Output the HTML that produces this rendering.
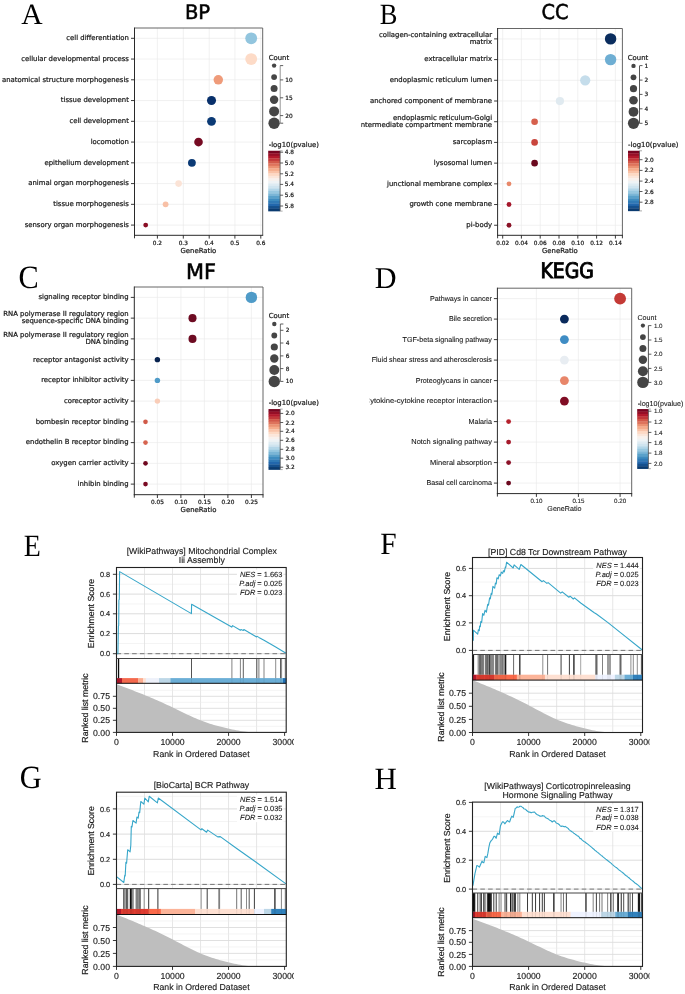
<!DOCTYPE html>
<html lang="en">
<head>
<meta charset="utf-8">
<title>GO / KEGG enrichment and GSEA figure</title>
<style>
html,body{margin:0;padding:0;background:#ffffff;}
body{width:685px;height:994px;overflow:hidden;}
svg{display:block;filter:blur(0.4px);}
text{text-rendering:geometricPrecision;}
</style>
</head>
<body>
<svg width="685" height="994" viewBox="0 0 685 994">
<defs>
<clipPath id="clipE"><rect x="0" y="520" width="294" height="240"/></clipPath>
<clipPath id="clipF"><rect x="343" y="520" width="306.6" height="240"/></clipPath>
<clipPath id="clipG"><rect x="0" y="760" width="294" height="234"/></clipPath>
<clipPath id="clipH"><rect x="343" y="760" width="306.6" height="234"/></clipPath>
<clipPath id="clipB"><rect x="361.2" y="0" width="324" height="260"/></clipPath>
<clipPath id="clipD"><rect x="369.6" y="260" width="315.4" height="260"/></clipPath>
</defs>
<rect x="0" y="0" width="685" height="994" fill="#ffffff"/>
<rect x="134.5" y="28" width="128.2" height="207.3" fill="#fff" stroke="none" stroke-width="1" />
<line x1="157.4" y1="28" x2="157.4" y2="235.3" stroke="#e9e9e9" stroke-width="0.65" />
<line x1="183.3" y1="28" x2="183.3" y2="235.3" stroke="#e9e9e9" stroke-width="0.65" />
<line x1="209.2" y1="28" x2="209.2" y2="235.3" stroke="#e9e9e9" stroke-width="0.65" />
<line x1="234.9" y1="28" x2="234.9" y2="235.3" stroke="#e9e9e9" stroke-width="0.65" />
<line x1="260.8" y1="28" x2="260.8" y2="235.3" stroke="#e9e9e9" stroke-width="0.65" />
<line x1="134.5" y1="38.3" x2="262.7" y2="38.3" stroke="#e9e9e9" stroke-width="0.65" />
<line x1="134.5" y1="59.05" x2="262.7" y2="59.05" stroke="#e9e9e9" stroke-width="0.65" />
<line x1="134.5" y1="79.81" x2="262.7" y2="79.81" stroke="#e9e9e9" stroke-width="0.65" />
<line x1="134.5" y1="100.56" x2="262.7" y2="100.56" stroke="#e9e9e9" stroke-width="0.65" />
<line x1="134.5" y1="121.32" x2="262.7" y2="121.32" stroke="#e9e9e9" stroke-width="0.65" />
<line x1="134.5" y1="142.07" x2="262.7" y2="142.07" stroke="#e9e9e9" stroke-width="0.65" />
<line x1="134.5" y1="162.83" x2="262.7" y2="162.83" stroke="#e9e9e9" stroke-width="0.65" />
<line x1="134.5" y1="183.58" x2="262.7" y2="183.58" stroke="#e9e9e9" stroke-width="0.65" />
<line x1="134.5" y1="204.34" x2="262.7" y2="204.34" stroke="#e9e9e9" stroke-width="0.65" />
<line x1="134.5" y1="225.09" x2="262.7" y2="225.09" stroke="#e9e9e9" stroke-width="0.65" />
<circle cx="251.2" cy="38.3" r="5.92" fill="#92c5de"/>
<circle cx="251.2" cy="59.05" r="5.92" fill="#fddbc7"/>
<circle cx="218.3" cy="79.81" r="4.72" fill="#ef9b7a"/>
<circle cx="211.5" cy="100.56" r="4.52" fill="#08306b"/>
<circle cx="211.5" cy="121.32" r="4.42" fill="#0b3a75"/>
<circle cx="198.5" cy="142.07" r="4.32" fill="#760a22"/>
<circle cx="191.9" cy="162.83" r="3.92" fill="#0b3a75"/>
<circle cx="178.6" cy="183.58" r="3.32" fill="#fbe3d6"/>
<circle cx="165.6" cy="204.34" r="2.92" fill="#f8c0a6"/>
<circle cx="145.7" cy="225.09" r="2.42" fill="#8a0e25"/>
<line x1="134.5" y1="28" x2="262.7" y2="28" stroke="#666" stroke-width="1" />
<line x1="262.7" y1="28" x2="262.7" y2="235.3" stroke="#666" stroke-width="1" />
<line x1="134.5" y1="27.5" x2="134.5" y2="235.8" stroke="#2a2a2a" stroke-width="1" />
<line x1="134" y1="235.3" x2="263.2" y2="235.3" stroke="#2a2a2a" stroke-width="1" />
<line x1="131" y1="38.3" x2="134.5" y2="38.3" stroke="#222" stroke-width="0.9" />
<text x="128.9" y="40.16" font-size="6.9" text-anchor="end" font-family="'DejaVu Sans', 'Liberation Sans', sans-serif" fill="#1a1a1a"  stroke="#1a1a1a" stroke-width="0.22">cell differentiation</text>
<line x1="131" y1="59.05" x2="134.5" y2="59.05" stroke="#222" stroke-width="0.9" />
<text x="128.9" y="60.92" font-size="6.9" text-anchor="end" font-family="'DejaVu Sans', 'Liberation Sans', sans-serif" fill="#1a1a1a"  stroke="#1a1a1a" stroke-width="0.22">cellular developmental process</text>
<line x1="131" y1="79.81" x2="134.5" y2="79.81" stroke="#222" stroke-width="0.9" />
<text x="128.9" y="81.67" font-size="6.9" text-anchor="end" font-family="'DejaVu Sans', 'Liberation Sans', sans-serif" fill="#1a1a1a"  stroke="#1a1a1a" stroke-width="0.22">anatomical structure morphogenesis</text>
<line x1="131" y1="100.56" x2="134.5" y2="100.56" stroke="#222" stroke-width="0.9" />
<text x="128.9" y="102.43" font-size="6.9" text-anchor="end" font-family="'DejaVu Sans', 'Liberation Sans', sans-serif" fill="#1a1a1a"  stroke="#1a1a1a" stroke-width="0.22">tissue development</text>
<line x1="131" y1="121.32" x2="134.5" y2="121.32" stroke="#222" stroke-width="0.9" />
<text x="128.9" y="123.18" font-size="6.9" text-anchor="end" font-family="'DejaVu Sans', 'Liberation Sans', sans-serif" fill="#1a1a1a"  stroke="#1a1a1a" stroke-width="0.22">cell development</text>
<line x1="131" y1="142.07" x2="134.5" y2="142.07" stroke="#222" stroke-width="0.9" />
<text x="128.9" y="143.94" font-size="6.9" text-anchor="end" font-family="'DejaVu Sans', 'Liberation Sans', sans-serif" fill="#1a1a1a"  stroke="#1a1a1a" stroke-width="0.22">locomotion</text>
<line x1="131" y1="162.83" x2="134.5" y2="162.83" stroke="#222" stroke-width="0.9" />
<text x="128.9" y="164.69" font-size="6.9" text-anchor="end" font-family="'DejaVu Sans', 'Liberation Sans', sans-serif" fill="#1a1a1a"  stroke="#1a1a1a" stroke-width="0.22">epithelium development</text>
<line x1="131" y1="183.58" x2="134.5" y2="183.58" stroke="#222" stroke-width="0.9" />
<text x="128.9" y="185.45" font-size="6.9" text-anchor="end" font-family="'DejaVu Sans', 'Liberation Sans', sans-serif" fill="#1a1a1a"  stroke="#1a1a1a" stroke-width="0.22">animal organ morphogenesis</text>
<line x1="131" y1="204.34" x2="134.5" y2="204.34" stroke="#222" stroke-width="0.9" />
<text x="128.9" y="206.2" font-size="6.9" text-anchor="end" font-family="'DejaVu Sans', 'Liberation Sans', sans-serif" fill="#1a1a1a"  stroke="#1a1a1a" stroke-width="0.22">tissue morphogenesis</text>
<line x1="131" y1="225.09" x2="134.5" y2="225.09" stroke="#222" stroke-width="0.9" />
<text x="128.9" y="226.96" font-size="6.9" text-anchor="end" font-family="'DejaVu Sans', 'Liberation Sans', sans-serif" fill="#1a1a1a"  stroke="#1a1a1a" stroke-width="0.22">sensory organ morphogenesis</text>
<line x1="157.4" y1="235.3" x2="157.4" y2="238.6" stroke="#222" stroke-width="0.9" />
<text x="157.4" y="245.09" font-size="5.8" text-anchor="middle" font-family="'DejaVu Sans', 'Liberation Sans', sans-serif" fill="#1a1a1a"  stroke="#1a1a1a" stroke-width="0.22">0.2</text>
<line x1="183.3" y1="235.3" x2="183.3" y2="238.6" stroke="#222" stroke-width="0.9" />
<text x="183.3" y="245.09" font-size="5.8" text-anchor="middle" font-family="'DejaVu Sans', 'Liberation Sans', sans-serif" fill="#1a1a1a"  stroke="#1a1a1a" stroke-width="0.22">0.3</text>
<line x1="209.2" y1="235.3" x2="209.2" y2="238.6" stroke="#222" stroke-width="0.9" />
<text x="209.2" y="245.09" font-size="5.8" text-anchor="middle" font-family="'DejaVu Sans', 'Liberation Sans', sans-serif" fill="#1a1a1a"  stroke="#1a1a1a" stroke-width="0.22">0.4</text>
<line x1="234.9" y1="235.3" x2="234.9" y2="238.6" stroke="#222" stroke-width="0.9" />
<text x="234.9" y="245.09" font-size="5.8" text-anchor="middle" font-family="'DejaVu Sans', 'Liberation Sans', sans-serif" fill="#1a1a1a"  stroke="#1a1a1a" stroke-width="0.22">0.5</text>
<line x1="260.8" y1="235.3" x2="260.8" y2="238.6" stroke="#222" stroke-width="0.9" />
<text x="260.8" y="245.09" font-size="5.8" text-anchor="middle" font-family="'DejaVu Sans', 'Liberation Sans', sans-serif" fill="#1a1a1a"  stroke="#1a1a1a" stroke-width="0.22">0.6</text>
<line x1="134.5" y1="235.3" x2="134.5" y2="238.3" stroke="#222" stroke-width="0.9" />
<text x="198.4" y="253.17" font-size="6.9" text-anchor="middle" font-family="'DejaVu Sans', 'Liberation Sans', sans-serif" fill="#1a1a1a"  stroke="#1a1a1a" stroke-width="0.22">GeneRatio</text>
<text x="197.5" y="19.3" font-size="20" text-anchor="middle" font-family="'DejaVu Sans Condensed', 'DejaVu Sans', 'Liberation Sans', sans-serif" fill="#000" textLength="25.2" lengthAdjust="spacingAndGlyphs" stroke="#000" stroke-width="0.5">BP</text>
<text transform="translate(21.2,23.8) scale(1,1)" font-size="29.6" font-family="'Liberation Serif', serif" fill="#000">A</text>
<text x="268.7" y="60.18" font-size="6.9" text-anchor="start" font-family="'DejaVu Sans', 'Liberation Sans', sans-serif" fill="#1a1a1a"  stroke="#1a1a1a" stroke-width="0.22">Count</text>
<circle cx="274.1" cy="65.6" r="2.2" fill="#454545"/>
<circle cx="274.1" cy="77.1" r="2.9" fill="#454545"/>
<circle cx="274.1" cy="88.4" r="3.5" fill="#454545"/>
<circle cx="274.1" cy="99.8" r="4.2" fill="#454545"/>
<circle cx="274.1" cy="111.4" r="5" fill="#454545"/>
<circle cx="274.1" cy="123.2" r="5.7" fill="#454545"/>
<line x1="280.2" y1="65.6" x2="280.2" y2="123.2" stroke="#8a8a8a" stroke-width="0.9" />
<line x1="280.2" y1="65.6" x2="283.2" y2="65.6" stroke="#333" stroke-width="0.8" />
<line x1="280.2" y1="79.9" x2="283.2" y2="79.9" stroke="#333" stroke-width="0.8" />
<text x="285.2" y="81.99" font-size="5.8" text-anchor="start" font-family="'DejaVu Sans', 'Liberation Sans', sans-serif" fill="#1a1a1a"  stroke="#1a1a1a" stroke-width="0.22">10</text>
<line x1="280.2" y1="97.8" x2="283.2" y2="97.8" stroke="#333" stroke-width="0.8" />
<text x="285.2" y="99.89" font-size="5.8" text-anchor="start" font-family="'DejaVu Sans', 'Liberation Sans', sans-serif" fill="#1a1a1a"  stroke="#1a1a1a" stroke-width="0.22">15</text>
<line x1="280.2" y1="115.6" x2="283.2" y2="115.6" stroke="#333" stroke-width="0.8" />
<text x="285.2" y="117.69" font-size="5.8" text-anchor="start" font-family="'DejaVu Sans', 'Liberation Sans', sans-serif" fill="#1a1a1a"  stroke="#1a1a1a" stroke-width="0.22">20</text>
<line x1="280.2" y1="123.2" x2="283.2" y2="123.2" stroke="#333" stroke-width="0.8" />
<text x="268.7" y="146.57" font-size="6.9" text-anchor="start" font-family="'DejaVu Sans', 'Liberation Sans', sans-serif" fill="#1a1a1a"  stroke="#1a1a1a" stroke-width="0.22">-log10(pvalue)</text>
<rect x="268.2" y="150.75" width="11.9" height="2.81" fill="#760521" stroke="none" stroke-width="1" />
<rect x="268.2" y="153.26" width="11.9" height="2.81" fill="#960f27" stroke="none" stroke-width="1" />
<rect x="268.2" y="155.78" width="11.9" height="2.81" fill="#b3192c" stroke="none" stroke-width="1" />
<rect x="268.2" y="158.29" width="11.9" height="2.81" fill="#c2383a" stroke="none" stroke-width="1" />
<rect x="268.2" y="160.8" width="11.9" height="2.81" fill="#d25849" stroke="none" stroke-width="1" />
<rect x="268.2" y="163.31" width="11.9" height="2.81" fill="#de735c" stroke="none" stroke-width="1" />
<rect x="268.2" y="165.82" width="11.9" height="2.81" fill="#eb9172" stroke="none" stroke-width="1" />
<rect x="268.2" y="168.34" width="11.9" height="2.81" fill="#f5ac8b" stroke="none" stroke-width="1" />
<rect x="268.2" y="170.85" width="11.9" height="2.81" fill="#f9c2a7" stroke="none" stroke-width="1" />
<rect x="268.2" y="173.36" width="11.9" height="2.81" fill="#fdd9c4" stroke="none" stroke-width="1" />
<rect x="268.2" y="175.88" width="11.9" height="2.81" fill="#fbe6da" stroke="none" stroke-width="1" />
<rect x="268.2" y="178.39" width="11.9" height="2.81" fill="#f8f1ed" stroke="none" stroke-width="1" />
<rect x="268.2" y="180.9" width="11.9" height="2.81" fill="#eff3f5" stroke="none" stroke-width="1" />
<rect x="268.2" y="183.41" width="11.9" height="2.81" fill="#deebf2" stroke="none" stroke-width="1" />
<rect x="268.2" y="185.92" width="11.9" height="2.81" fill="#cfe4ef" stroke="none" stroke-width="1" />
<rect x="268.2" y="188.44" width="11.9" height="2.81" fill="#b3d6e8" stroke="none" stroke-width="1" />
<rect x="268.2" y="190.95" width="11.9" height="2.81" fill="#98c8e0" stroke="none" stroke-width="1" />
<rect x="268.2" y="193.46" width="11.9" height="2.81" fill="#7bb6d6" stroke="none" stroke-width="1" />
<rect x="268.2" y="195.97" width="11.9" height="2.81" fill="#59a1ca" stroke="none" stroke-width="1" />
<rect x="268.2" y="198.49" width="11.9" height="2.81" fill="#3e8cbf" stroke="none" stroke-width="1" />
<rect x="268.2" y="201" width="11.9" height="2.81" fill="#307ab6" stroke="none" stroke-width="1" />
<rect x="268.2" y="203.51" width="11.9" height="2.81" fill="#2267ac" stroke="none" stroke-width="1" />
<rect x="268.2" y="206.02" width="11.9" height="2.81" fill="#15508d" stroke="none" stroke-width="1" />
<rect x="268.2" y="208.54" width="11.9" height="2.81" fill="#0a3b70" stroke="none" stroke-width="1" />
<line x1="280.1" y1="150.8" x2="280.1" y2="211.1" stroke="#555" stroke-width="0.8" />
<line x1="280.1" y1="150.8" x2="282.6" y2="150.8" stroke="#888" stroke-width="0.7" />
<line x1="280.1" y1="211.1" x2="282.6" y2="211.1" stroke="#888" stroke-width="0.7" />
<line x1="280.1" y1="152.2" x2="283.1" y2="152.2" stroke="#333" stroke-width="0.8" />
<text x="284.8" y="154.29" font-size="5.8" text-anchor="start" font-family="'DejaVu Sans', 'Liberation Sans', sans-serif" fill="#1a1a1a"  stroke="#1a1a1a" stroke-width="0.22">4.8</text>
<line x1="280.1" y1="163" x2="283.1" y2="163" stroke="#333" stroke-width="0.8" />
<text x="284.8" y="165.09" font-size="5.8" text-anchor="start" font-family="'DejaVu Sans', 'Liberation Sans', sans-serif" fill="#1a1a1a"  stroke="#1a1a1a" stroke-width="0.22">5.0</text>
<line x1="280.1" y1="173.8" x2="283.1" y2="173.8" stroke="#333" stroke-width="0.8" />
<text x="284.8" y="175.89" font-size="5.8" text-anchor="start" font-family="'DejaVu Sans', 'Liberation Sans', sans-serif" fill="#1a1a1a"  stroke="#1a1a1a" stroke-width="0.22">5.2</text>
<line x1="280.1" y1="184.4" x2="283.1" y2="184.4" stroke="#333" stroke-width="0.8" />
<text x="284.8" y="186.49" font-size="5.8" text-anchor="start" font-family="'DejaVu Sans', 'Liberation Sans', sans-serif" fill="#1a1a1a"  stroke="#1a1a1a" stroke-width="0.22">5.4</text>
<line x1="280.1" y1="195.2" x2="283.1" y2="195.2" stroke="#333" stroke-width="0.8" />
<text x="284.8" y="197.29" font-size="5.8" text-anchor="start" font-family="'DejaVu Sans', 'Liberation Sans', sans-serif" fill="#1a1a1a"  stroke="#1a1a1a" stroke-width="0.22">5.6</text>
<line x1="280.1" y1="206" x2="283.1" y2="206" stroke="#333" stroke-width="0.8" />
<text x="284.8" y="208.09" font-size="5.8" text-anchor="start" font-family="'DejaVu Sans', 'Liberation Sans', sans-serif" fill="#1a1a1a"  stroke="#1a1a1a" stroke-width="0.22">5.8</text>
<g clip-path="url(#clipB)">
<rect x="497.6" y="28.5" width="124.8" height="206.8" fill="#fff" stroke="none" stroke-width="1" />
<line x1="502.7" y1="28.5" x2="502.7" y2="235.3" stroke="#e9e9e9" stroke-width="0.65" />
<line x1="521.4" y1="28.5" x2="521.4" y2="235.3" stroke="#e9e9e9" stroke-width="0.65" />
<line x1="540.2" y1="28.5" x2="540.2" y2="235.3" stroke="#e9e9e9" stroke-width="0.65" />
<line x1="559" y1="28.5" x2="559" y2="235.3" stroke="#e9e9e9" stroke-width="0.65" />
<line x1="577.8" y1="28.5" x2="577.8" y2="235.3" stroke="#e9e9e9" stroke-width="0.65" />
<line x1="596.6" y1="28.5" x2="596.6" y2="235.3" stroke="#e9e9e9" stroke-width="0.65" />
<line x1="615.4" y1="28.5" x2="615.4" y2="235.3" stroke="#e9e9e9" stroke-width="0.65" />
<line x1="497.6" y1="38.9" x2="622.4" y2="38.9" stroke="#e9e9e9" stroke-width="0.65" />
<line x1="497.6" y1="59.6" x2="622.4" y2="59.6" stroke="#e9e9e9" stroke-width="0.65" />
<line x1="497.6" y1="80.31" x2="622.4" y2="80.31" stroke="#e9e9e9" stroke-width="0.65" />
<line x1="497.6" y1="101.01" x2="622.4" y2="101.01" stroke="#e9e9e9" stroke-width="0.65" />
<line x1="497.6" y1="121.72" x2="622.4" y2="121.72" stroke="#e9e9e9" stroke-width="0.65" />
<line x1="497.6" y1="142.42" x2="622.4" y2="142.42" stroke="#e9e9e9" stroke-width="0.65" />
<line x1="497.6" y1="163.13" x2="622.4" y2="163.13" stroke="#e9e9e9" stroke-width="0.65" />
<line x1="497.6" y1="183.84" x2="622.4" y2="183.84" stroke="#e9e9e9" stroke-width="0.65" />
<line x1="497.6" y1="204.54" x2="622.4" y2="204.54" stroke="#e9e9e9" stroke-width="0.65" />
<line x1="497.6" y1="225.24" x2="622.4" y2="225.24" stroke="#e9e9e9" stroke-width="0.65" />
<circle cx="610.6" cy="38.9" r="5.72" fill="#0a2d5e"/>
<circle cx="610.6" cy="59.6" r="5.72" fill="#6eaed3"/>
<circle cx="585.2" cy="80.31" r="5.12" fill="#c5ddeb"/>
<circle cx="559.9" cy="101.01" r="4.12" fill="#e0eaf0"/>
<circle cx="534.6" cy="121.72" r="3.32" fill="#d6604d"/>
<circle cx="534.6" cy="142.42" r="3.32" fill="#c9463d"/>
<circle cx="534.6" cy="163.13" r="3.32" fill="#6b0a1f"/>
<circle cx="509" cy="183.84" r="2.42" fill="#e8896a"/>
<circle cx="509" cy="204.54" r="2.42" fill="#a5182c"/>
<circle cx="509" cy="225.24" r="2.42" fill="#8a1226"/>
<line x1="497.6" y1="28.5" x2="622.4" y2="28.5" stroke="#666" stroke-width="1" />
<line x1="622.4" y1="28.5" x2="622.4" y2="235.3" stroke="#666" stroke-width="1" />
<line x1="497.6" y1="28" x2="497.6" y2="235.8" stroke="#2a2a2a" stroke-width="1" />
<line x1="497.1" y1="235.3" x2="622.9" y2="235.3" stroke="#2a2a2a" stroke-width="1" />
<line x1="494.1" y1="38.9" x2="497.6" y2="38.9" stroke="#222" stroke-width="0.9" />
<text x="492.1" y="37.16" font-size="6.9" text-anchor="end" font-family="'DejaVu Sans', 'Liberation Sans', sans-serif" fill="#1a1a1a"  stroke="#1a1a1a" stroke-width="0.22">collagen-containing extracellular</text>
<text x="492.1" y="43.86" font-size="6.9" text-anchor="end" font-family="'DejaVu Sans', 'Liberation Sans', sans-serif" fill="#1a1a1a"  stroke="#1a1a1a" stroke-width="0.22">matrix</text>
<line x1="494.1" y1="59.6" x2="497.6" y2="59.6" stroke="#222" stroke-width="0.9" />
<text x="492.1" y="61.47" font-size="6.9" text-anchor="end" font-family="'DejaVu Sans', 'Liberation Sans', sans-serif" fill="#1a1a1a"  stroke="#1a1a1a" stroke-width="0.22">extracellular matrix</text>
<line x1="494.1" y1="80.31" x2="497.6" y2="80.31" stroke="#222" stroke-width="0.9" />
<text x="492.1" y="82.17" font-size="6.9" text-anchor="end" font-family="'DejaVu Sans', 'Liberation Sans', sans-serif" fill="#1a1a1a"  stroke="#1a1a1a" stroke-width="0.22">endoplasmic reticulum lumen</text>
<line x1="494.1" y1="101.01" x2="497.6" y2="101.01" stroke="#222" stroke-width="0.9" />
<text x="492.1" y="102.88" font-size="6.9" text-anchor="end" font-family="'DejaVu Sans', 'Liberation Sans', sans-serif" fill="#1a1a1a"  stroke="#1a1a1a" stroke-width="0.22">anchored component of membrane</text>
<line x1="494.1" y1="121.72" x2="497.6" y2="121.72" stroke="#222" stroke-width="0.9" />
<text x="492.1" y="119.98" font-size="6.9" text-anchor="end" font-family="'DejaVu Sans', 'Liberation Sans', sans-serif" fill="#1a1a1a"  stroke="#1a1a1a" stroke-width="0.22">endoplasmic reticulum-Golgi</text>
<text x="492.1" y="126.68" font-size="6.9" text-anchor="end" font-family="'DejaVu Sans', 'Liberation Sans', sans-serif" fill="#1a1a1a"  stroke="#1a1a1a" stroke-width="0.22">intermediate compartment membrane</text>
<line x1="494.1" y1="142.42" x2="497.6" y2="142.42" stroke="#222" stroke-width="0.9" />
<text x="492.1" y="144.29" font-size="6.9" text-anchor="end" font-family="'DejaVu Sans', 'Liberation Sans', sans-serif" fill="#1a1a1a"  stroke="#1a1a1a" stroke-width="0.22">sarcoplasm</text>
<line x1="494.1" y1="163.13" x2="497.6" y2="163.13" stroke="#222" stroke-width="0.9" />
<text x="492.1" y="164.99" font-size="6.9" text-anchor="end" font-family="'DejaVu Sans', 'Liberation Sans', sans-serif" fill="#1a1a1a"  stroke="#1a1a1a" stroke-width="0.22">lysosomal lumen</text>
<line x1="494.1" y1="183.84" x2="497.6" y2="183.84" stroke="#222" stroke-width="0.9" />
<text x="492.1" y="185.7" font-size="6.9" text-anchor="end" font-family="'DejaVu Sans', 'Liberation Sans', sans-serif" fill="#1a1a1a"  stroke="#1a1a1a" stroke-width="0.22">junctional membrane complex</text>
<line x1="494.1" y1="204.54" x2="497.6" y2="204.54" stroke="#222" stroke-width="0.9" />
<text x="492.1" y="206.4" font-size="6.9" text-anchor="end" font-family="'DejaVu Sans', 'Liberation Sans', sans-serif" fill="#1a1a1a"  stroke="#1a1a1a" stroke-width="0.22">growth cone membrane</text>
<line x1="494.1" y1="225.24" x2="497.6" y2="225.24" stroke="#222" stroke-width="0.9" />
<text x="492.1" y="227.11" font-size="6.9" text-anchor="end" font-family="'DejaVu Sans', 'Liberation Sans', sans-serif" fill="#1a1a1a"  stroke="#1a1a1a" stroke-width="0.22">pi-body</text>
<line x1="502.7" y1="235.3" x2="502.7" y2="238.6" stroke="#222" stroke-width="0.9" />
<text x="502.7" y="244.69" font-size="5.8" text-anchor="middle" font-family="'DejaVu Sans', 'Liberation Sans', sans-serif" fill="#1a1a1a"  stroke="#1a1a1a" stroke-width="0.22">0.02</text>
<line x1="521.4" y1="235.3" x2="521.4" y2="238.6" stroke="#222" stroke-width="0.9" />
<text x="521.4" y="244.69" font-size="5.8" text-anchor="middle" font-family="'DejaVu Sans', 'Liberation Sans', sans-serif" fill="#1a1a1a"  stroke="#1a1a1a" stroke-width="0.22">0.04</text>
<line x1="540.2" y1="235.3" x2="540.2" y2="238.6" stroke="#222" stroke-width="0.9" />
<text x="540.2" y="244.69" font-size="5.8" text-anchor="middle" font-family="'DejaVu Sans', 'Liberation Sans', sans-serif" fill="#1a1a1a"  stroke="#1a1a1a" stroke-width="0.22">0.06</text>
<line x1="559" y1="235.3" x2="559" y2="238.6" stroke="#222" stroke-width="0.9" />
<text x="559" y="244.69" font-size="5.8" text-anchor="middle" font-family="'DejaVu Sans', 'Liberation Sans', sans-serif" fill="#1a1a1a"  stroke="#1a1a1a" stroke-width="0.22">0.08</text>
<line x1="577.8" y1="235.3" x2="577.8" y2="238.6" stroke="#222" stroke-width="0.9" />
<text x="577.8" y="244.69" font-size="5.8" text-anchor="middle" font-family="'DejaVu Sans', 'Liberation Sans', sans-serif" fill="#1a1a1a"  stroke="#1a1a1a" stroke-width="0.22">0.10</text>
<line x1="596.6" y1="235.3" x2="596.6" y2="238.6" stroke="#222" stroke-width="0.9" />
<text x="596.6" y="244.69" font-size="5.8" text-anchor="middle" font-family="'DejaVu Sans', 'Liberation Sans', sans-serif" fill="#1a1a1a"  stroke="#1a1a1a" stroke-width="0.22">0.12</text>
<line x1="615.4" y1="235.3" x2="615.4" y2="238.6" stroke="#222" stroke-width="0.9" />
<text x="615.4" y="244.69" font-size="5.8" text-anchor="middle" font-family="'DejaVu Sans', 'Liberation Sans', sans-serif" fill="#1a1a1a"  stroke="#1a1a1a" stroke-width="0.22">0.14</text>
<line x1="497.6" y1="235.3" x2="497.6" y2="238.3" stroke="#222" stroke-width="0.9" />
<line x1="622.4" y1="235.3" x2="622.4" y2="238.3" stroke="#222" stroke-width="0.9" />
<text x="559.9" y="252.67" font-size="6.9" text-anchor="middle" font-family="'DejaVu Sans', 'Liberation Sans', sans-serif" fill="#1a1a1a"  stroke="#1a1a1a" stroke-width="0.22">GeneRatio</text>
<text x="555" y="19.3" font-size="20.4" text-anchor="middle" font-family="'DejaVu Sans Condensed', 'DejaVu Sans', 'Liberation Sans', sans-serif" fill="#000" textLength="27" lengthAdjust="spacingAndGlyphs" stroke="#000" stroke-width="0.5">CC</text>
<text transform="translate(379.8,24.4) scale(0.9,1)" font-size="29.4" font-family="'Liberation Serif', serif" fill="#000">B</text>
<text x="627.8" y="60.28" font-size="6.9" text-anchor="start" font-family="'DejaVu Sans', 'Liberation Sans', sans-serif" fill="#1a1a1a"  stroke="#1a1a1a" stroke-width="0.22">Count</text>
<circle cx="633.5" cy="65.9" r="2.2" fill="#454545"/>
<circle cx="633.5" cy="77.3" r="2.9" fill="#454545"/>
<circle cx="633.5" cy="88.7" r="3.6" fill="#454545"/>
<circle cx="633.5" cy="100.3" r="4.3" fill="#454545"/>
<circle cx="633.5" cy="111.8" r="4.9" fill="#454545"/>
<circle cx="633.5" cy="123.3" r="5.6" fill="#454545"/>
<line x1="639.5" y1="65.9" x2="639.5" y2="123.3" stroke="#444" stroke-width="0.9" />
<line x1="639.5" y1="65.6" x2="642.5" y2="65.6" stroke="#333" stroke-width="0.8" />
<text x="644.4" y="67.69" font-size="5.8" text-anchor="start" font-family="'DejaVu Sans', 'Liberation Sans', sans-serif" fill="#1a1a1a"  stroke="#1a1a1a" stroke-width="0.22">1</text>
<line x1="639.5" y1="80.1" x2="642.5" y2="80.1" stroke="#333" stroke-width="0.8" />
<text x="644.4" y="82.19" font-size="5.8" text-anchor="start" font-family="'DejaVu Sans', 'Liberation Sans', sans-serif" fill="#1a1a1a"  stroke="#1a1a1a" stroke-width="0.22">2</text>
<line x1="639.5" y1="94.4" x2="642.5" y2="94.4" stroke="#333" stroke-width="0.8" />
<text x="644.4" y="96.49" font-size="5.8" text-anchor="start" font-family="'DejaVu Sans', 'Liberation Sans', sans-serif" fill="#1a1a1a"  stroke="#1a1a1a" stroke-width="0.22">3</text>
<line x1="639.5" y1="108.8" x2="642.5" y2="108.8" stroke="#333" stroke-width="0.8" />
<text x="644.4" y="110.89" font-size="5.8" text-anchor="start" font-family="'DejaVu Sans', 'Liberation Sans', sans-serif" fill="#1a1a1a"  stroke="#1a1a1a" stroke-width="0.22">4</text>
<line x1="639.5" y1="123.3" x2="642.5" y2="123.3" stroke="#333" stroke-width="0.8" />
<text x="644.4" y="125.39" font-size="5.8" text-anchor="start" font-family="'DejaVu Sans', 'Liberation Sans', sans-serif" fill="#1a1a1a"  stroke="#1a1a1a" stroke-width="0.22">5</text>
<text x="628.1" y="146.77" font-size="6.9" text-anchor="start" font-family="'DejaVu Sans', 'Liberation Sans', sans-serif" fill="#1a1a1a"  stroke="#1a1a1a" stroke-width="0.22">-log10(pvalue)</text>
<rect x="628" y="150.75" width="11.5" height="2.8" fill="#760521" stroke="none" stroke-width="1" />
<rect x="628" y="153.25" width="11.5" height="2.8" fill="#960f27" stroke="none" stroke-width="1" />
<rect x="628" y="155.76" width="11.5" height="2.8" fill="#b3192c" stroke="none" stroke-width="1" />
<rect x="628" y="158.26" width="11.5" height="2.8" fill="#c2383a" stroke="none" stroke-width="1" />
<rect x="628" y="160.77" width="11.5" height="2.8" fill="#d25849" stroke="none" stroke-width="1" />
<rect x="628" y="163.27" width="11.5" height="2.8" fill="#de735c" stroke="none" stroke-width="1" />
<rect x="628" y="165.78" width="11.5" height="2.8" fill="#eb9172" stroke="none" stroke-width="1" />
<rect x="628" y="168.28" width="11.5" height="2.8" fill="#f5ac8b" stroke="none" stroke-width="1" />
<rect x="628" y="170.78" width="11.5" height="2.8" fill="#f9c2a7" stroke="none" stroke-width="1" />
<rect x="628" y="173.29" width="11.5" height="2.8" fill="#fdd9c4" stroke="none" stroke-width="1" />
<rect x="628" y="175.79" width="11.5" height="2.8" fill="#fbe6da" stroke="none" stroke-width="1" />
<rect x="628" y="178.3" width="11.5" height="2.8" fill="#f8f1ed" stroke="none" stroke-width="1" />
<rect x="628" y="180.8" width="11.5" height="2.8" fill="#eff3f5" stroke="none" stroke-width="1" />
<rect x="628" y="183.3" width="11.5" height="2.8" fill="#deebf2" stroke="none" stroke-width="1" />
<rect x="628" y="185.81" width="11.5" height="2.8" fill="#cfe4ef" stroke="none" stroke-width="1" />
<rect x="628" y="188.31" width="11.5" height="2.8" fill="#b3d6e8" stroke="none" stroke-width="1" />
<rect x="628" y="190.82" width="11.5" height="2.8" fill="#98c8e0" stroke="none" stroke-width="1" />
<rect x="628" y="193.32" width="11.5" height="2.8" fill="#7bb6d6" stroke="none" stroke-width="1" />
<rect x="628" y="195.82" width="11.5" height="2.8" fill="#59a1ca" stroke="none" stroke-width="1" />
<rect x="628" y="198.33" width="11.5" height="2.8" fill="#3e8cbf" stroke="none" stroke-width="1" />
<rect x="628" y="200.83" width="11.5" height="2.8" fill="#307ab6" stroke="none" stroke-width="1" />
<rect x="628" y="203.34" width="11.5" height="2.8" fill="#2267ac" stroke="none" stroke-width="1" />
<rect x="628" y="205.84" width="11.5" height="2.8" fill="#15508d" stroke="none" stroke-width="1" />
<rect x="628" y="208.35" width="11.5" height="2.8" fill="#0a3b70" stroke="none" stroke-width="1" />
<line x1="639.5" y1="150.8" x2="639.5" y2="210.9" stroke="#555" stroke-width="0.8" />
<line x1="639.5" y1="150.8" x2="642" y2="150.8" stroke="#888" stroke-width="0.7" />
<line x1="639.5" y1="210.9" x2="642" y2="210.9" stroke="#888" stroke-width="0.7" />
<line x1="639.5" y1="159.7" x2="642.5" y2="159.7" stroke="#333" stroke-width="0.8" />
<text x="644.6" y="161.79" font-size="5.8" text-anchor="start" font-family="'DejaVu Sans', 'Liberation Sans', sans-serif" fill="#1a1a1a"  stroke="#1a1a1a" stroke-width="0.22">2.0</text>
<line x1="639.5" y1="170.4" x2="642.5" y2="170.4" stroke="#333" stroke-width="0.8" />
<text x="644.6" y="172.49" font-size="5.8" text-anchor="start" font-family="'DejaVu Sans', 'Liberation Sans', sans-serif" fill="#1a1a1a"  stroke="#1a1a1a" stroke-width="0.22">2.2</text>
<line x1="639.5" y1="181.1" x2="642.5" y2="181.1" stroke="#333" stroke-width="0.8" />
<text x="644.6" y="183.19" font-size="5.8" text-anchor="start" font-family="'DejaVu Sans', 'Liberation Sans', sans-serif" fill="#1a1a1a"  stroke="#1a1a1a" stroke-width="0.22">2.4</text>
<line x1="639.5" y1="191.5" x2="642.5" y2="191.5" stroke="#333" stroke-width="0.8" />
<text x="644.6" y="193.59" font-size="5.8" text-anchor="start" font-family="'DejaVu Sans', 'Liberation Sans', sans-serif" fill="#1a1a1a"  stroke="#1a1a1a" stroke-width="0.22">2.6</text>
<line x1="639.5" y1="202.2" x2="642.5" y2="202.2" stroke="#333" stroke-width="0.8" />
<text x="644.6" y="204.29" font-size="5.8" text-anchor="start" font-family="'DejaVu Sans', 'Liberation Sans', sans-serif" fill="#1a1a1a"  stroke="#1a1a1a" stroke-width="0.22">2.8</text>
</g>
<rect x="134.3" y="287" width="128.7" height="207.7" fill="#fff" stroke="none" stroke-width="1" />
<line x1="157.4" y1="287" x2="157.4" y2="494.7" stroke="#e9e9e9" stroke-width="0.65" />
<line x1="180.9" y1="287" x2="180.9" y2="494.7" stroke="#e9e9e9" stroke-width="0.65" />
<line x1="204.4" y1="287" x2="204.4" y2="494.7" stroke="#e9e9e9" stroke-width="0.65" />
<line x1="227.9" y1="287" x2="227.9" y2="494.7" stroke="#e9e9e9" stroke-width="0.65" />
<line x1="251.4" y1="287" x2="251.4" y2="494.7" stroke="#e9e9e9" stroke-width="0.65" />
<line x1="134.3" y1="297.4" x2="263" y2="297.4" stroke="#e9e9e9" stroke-width="0.65" />
<line x1="134.3" y1="318.14" x2="263" y2="318.14" stroke="#e9e9e9" stroke-width="0.65" />
<line x1="134.3" y1="338.89" x2="263" y2="338.89" stroke="#e9e9e9" stroke-width="0.65" />
<line x1="134.3" y1="359.63" x2="263" y2="359.63" stroke="#e9e9e9" stroke-width="0.65" />
<line x1="134.3" y1="380.38" x2="263" y2="380.38" stroke="#e9e9e9" stroke-width="0.65" />
<line x1="134.3" y1="401.12" x2="263" y2="401.12" stroke="#e9e9e9" stroke-width="0.65" />
<line x1="134.3" y1="421.87" x2="263" y2="421.87" stroke="#e9e9e9" stroke-width="0.65" />
<line x1="134.3" y1="442.62" x2="263" y2="442.62" stroke="#e9e9e9" stroke-width="0.65" />
<line x1="134.3" y1="463.36" x2="263" y2="463.36" stroke="#e9e9e9" stroke-width="0.65" />
<line x1="134.3" y1="484.11" x2="263" y2="484.11" stroke="#e9e9e9" stroke-width="0.65" />
<circle cx="251.4" cy="297.4" r="5.72" fill="#4f9bc8"/>
<circle cx="192.5" cy="318.14" r="4.02" fill="#6d0b22"/>
<circle cx="192.5" cy="338.89" r="4.02" fill="#6d0b22"/>
<circle cx="157.4" cy="359.63" r="2.72" fill="#08234f"/>
<circle cx="157.4" cy="380.38" r="2.72" fill="#4f9bc8"/>
<circle cx="157.4" cy="401.12" r="2.72" fill="#f9cdb8"/>
<circle cx="145.5" cy="421.87" r="2.32" fill="#d05a48"/>
<circle cx="145.5" cy="442.62" r="2.32" fill="#d66450"/>
<circle cx="145.5" cy="463.36" r="2.32" fill="#70081f"/>
<circle cx="145.5" cy="484.11" r="2.32" fill="#7a0a23"/>
<line x1="134.3" y1="287" x2="263" y2="287" stroke="#666" stroke-width="1" />
<line x1="263" y1="287" x2="263" y2="494.7" stroke="#666" stroke-width="1" />
<line x1="134.3" y1="286.5" x2="134.3" y2="495.2" stroke="#2a2a2a" stroke-width="1" />
<line x1="133.8" y1="494.7" x2="263.5" y2="494.7" stroke="#2a2a2a" stroke-width="1" />
<line x1="130.8" y1="297.4" x2="134.3" y2="297.4" stroke="#222" stroke-width="0.9" />
<text x="128.6" y="299.26" font-size="6.9" text-anchor="end" font-family="'DejaVu Sans', 'Liberation Sans', sans-serif" fill="#1a1a1a"  stroke="#1a1a1a" stroke-width="0.22">signaling receptor binding</text>
<line x1="130.8" y1="318.14" x2="134.3" y2="318.14" stroke="#222" stroke-width="0.9" />
<text x="128.6" y="316.41" font-size="6.9" text-anchor="end" font-family="'DejaVu Sans', 'Liberation Sans', sans-serif" fill="#1a1a1a"  stroke="#1a1a1a" stroke-width="0.22">RNA polymerase II regulatory region</text>
<text x="128.6" y="323.11" font-size="6.9" text-anchor="end" font-family="'DejaVu Sans', 'Liberation Sans', sans-serif" fill="#1a1a1a"  stroke="#1a1a1a" stroke-width="0.22">sequence-specific DNA binding</text>
<line x1="130.8" y1="338.89" x2="134.3" y2="338.89" stroke="#222" stroke-width="0.9" />
<text x="128.6" y="337.15" font-size="6.9" text-anchor="end" font-family="'DejaVu Sans', 'Liberation Sans', sans-serif" fill="#1a1a1a"  stroke="#1a1a1a" stroke-width="0.22">RNA polymerase II regulatory region</text>
<text x="128.6" y="343.85" font-size="6.9" text-anchor="end" font-family="'DejaVu Sans', 'Liberation Sans', sans-serif" fill="#1a1a1a"  stroke="#1a1a1a" stroke-width="0.22">DNA binding</text>
<line x1="130.8" y1="359.63" x2="134.3" y2="359.63" stroke="#222" stroke-width="0.9" />
<text x="128.6" y="361.5" font-size="6.9" text-anchor="end" font-family="'DejaVu Sans', 'Liberation Sans', sans-serif" fill="#1a1a1a"  stroke="#1a1a1a" stroke-width="0.22">receptor antagonist activity</text>
<line x1="130.8" y1="380.38" x2="134.3" y2="380.38" stroke="#222" stroke-width="0.9" />
<text x="128.6" y="382.24" font-size="6.9" text-anchor="end" font-family="'DejaVu Sans', 'Liberation Sans', sans-serif" fill="#1a1a1a"  stroke="#1a1a1a" stroke-width="0.22">receptor inhibitor activity</text>
<line x1="130.8" y1="401.12" x2="134.3" y2="401.12" stroke="#222" stroke-width="0.9" />
<text x="128.6" y="402.99" font-size="6.9" text-anchor="end" font-family="'DejaVu Sans', 'Liberation Sans', sans-serif" fill="#1a1a1a"  stroke="#1a1a1a" stroke-width="0.22">coreceptor activity</text>
<line x1="130.8" y1="421.87" x2="134.3" y2="421.87" stroke="#222" stroke-width="0.9" />
<text x="128.6" y="423.73" font-size="6.9" text-anchor="end" font-family="'DejaVu Sans', 'Liberation Sans', sans-serif" fill="#1a1a1a"  stroke="#1a1a1a" stroke-width="0.22">bombesin receptor binding</text>
<line x1="130.8" y1="442.62" x2="134.3" y2="442.62" stroke="#222" stroke-width="0.9" />
<text x="128.6" y="444.48" font-size="6.9" text-anchor="end" font-family="'DejaVu Sans', 'Liberation Sans', sans-serif" fill="#1a1a1a"  stroke="#1a1a1a" stroke-width="0.22">endothelin B receptor binding</text>
<line x1="130.8" y1="463.36" x2="134.3" y2="463.36" stroke="#222" stroke-width="0.9" />
<text x="128.6" y="465.22" font-size="6.9" text-anchor="end" font-family="'DejaVu Sans', 'Liberation Sans', sans-serif" fill="#1a1a1a"  stroke="#1a1a1a" stroke-width="0.22">oxygen carrier activity</text>
<line x1="130.8" y1="484.11" x2="134.3" y2="484.11" stroke="#222" stroke-width="0.9" />
<text x="128.6" y="485.97" font-size="6.9" text-anchor="end" font-family="'DejaVu Sans', 'Liberation Sans', sans-serif" fill="#1a1a1a"  stroke="#1a1a1a" stroke-width="0.22">inhibin binding</text>
<line x1="157.4" y1="494.7" x2="157.4" y2="498" stroke="#222" stroke-width="0.9" />
<text x="157.4" y="503.99" font-size="5.8" text-anchor="middle" font-family="'DejaVu Sans', 'Liberation Sans', sans-serif" fill="#1a1a1a"  stroke="#1a1a1a" stroke-width="0.22">0.05</text>
<line x1="180.9" y1="494.7" x2="180.9" y2="498" stroke="#222" stroke-width="0.9" />
<text x="180.9" y="503.99" font-size="5.8" text-anchor="middle" font-family="'DejaVu Sans', 'Liberation Sans', sans-serif" fill="#1a1a1a"  stroke="#1a1a1a" stroke-width="0.22">0.10</text>
<line x1="204.4" y1="494.7" x2="204.4" y2="498" stroke="#222" stroke-width="0.9" />
<text x="204.4" y="503.99" font-size="5.8" text-anchor="middle" font-family="'DejaVu Sans', 'Liberation Sans', sans-serif" fill="#1a1a1a"  stroke="#1a1a1a" stroke-width="0.22">0.15</text>
<line x1="227.9" y1="494.7" x2="227.9" y2="498" stroke="#222" stroke-width="0.9" />
<text x="227.9" y="503.99" font-size="5.8" text-anchor="middle" font-family="'DejaVu Sans', 'Liberation Sans', sans-serif" fill="#1a1a1a"  stroke="#1a1a1a" stroke-width="0.22">0.20</text>
<line x1="251.4" y1="494.7" x2="251.4" y2="498" stroke="#222" stroke-width="0.9" />
<text x="251.4" y="503.99" font-size="5.8" text-anchor="middle" font-family="'DejaVu Sans', 'Liberation Sans', sans-serif" fill="#1a1a1a"  stroke="#1a1a1a" stroke-width="0.22">0.25</text>
<line x1="134.3" y1="494.7" x2="134.3" y2="497.7" stroke="#222" stroke-width="0.9" />
<line x1="263" y1="494.7" x2="263" y2="497.7" stroke="#222" stroke-width="0.9" />
<text x="198.5" y="511.97" font-size="6.9" text-anchor="middle" font-family="'DejaVu Sans', 'Liberation Sans', sans-serif" fill="#1a1a1a"  stroke="#1a1a1a" stroke-width="0.22">GeneRatio</text>
<text x="201" y="278.7" font-size="21.2" text-anchor="middle" font-family="'DejaVu Sans Condensed', 'DejaVu Sans', 'Liberation Sans', sans-serif" fill="#000" textLength="30" lengthAdjust="spacingAndGlyphs" stroke="#000" stroke-width="0.5">MF</text>
<text transform="translate(18.5,288.2) scale(0.93,1)" font-size="32.5" font-family="'Liberation Serif', serif" fill="#000">C</text>
<text x="268.7" y="318.48" font-size="6.9" text-anchor="start" font-family="'DejaVu Sans', 'Liberation Sans', sans-serif" fill="#1a1a1a"  stroke="#1a1a1a" stroke-width="0.22">Count</text>
<circle cx="274.3" cy="324" r="2.2" fill="#454545"/>
<circle cx="274.3" cy="335.5" r="2.9" fill="#454545"/>
<circle cx="274.3" cy="347" r="3.6" fill="#454545"/>
<circle cx="274.3" cy="358.5" r="4.2" fill="#454545"/>
<circle cx="274.3" cy="370" r="5" fill="#454545"/>
<circle cx="274.3" cy="381.5" r="5.7" fill="#454545"/>
<line x1="280.4" y1="324" x2="280.4" y2="381.5" stroke="#666" stroke-width="0.9" />
<line x1="280.4" y1="324" x2="283.4" y2="324" stroke="#333" stroke-width="0.8" />
<line x1="280.4" y1="330.3" x2="283.4" y2="330.3" stroke="#333" stroke-width="0.8" />
<text x="285.7" y="332.39" font-size="5.8" text-anchor="start" font-family="'DejaVu Sans', 'Liberation Sans', sans-serif" fill="#1a1a1a"  stroke="#1a1a1a" stroke-width="0.22">2</text>
<line x1="280.4" y1="343" x2="283.4" y2="343" stroke="#333" stroke-width="0.8" />
<text x="285.7" y="345.09" font-size="5.8" text-anchor="start" font-family="'DejaVu Sans', 'Liberation Sans', sans-serif" fill="#1a1a1a"  stroke="#1a1a1a" stroke-width="0.22">4</text>
<line x1="280.4" y1="355.9" x2="283.4" y2="355.9" stroke="#333" stroke-width="0.8" />
<text x="285.7" y="357.99" font-size="5.8" text-anchor="start" font-family="'DejaVu Sans', 'Liberation Sans', sans-serif" fill="#1a1a1a"  stroke="#1a1a1a" stroke-width="0.22">6</text>
<line x1="280.4" y1="368.6" x2="283.4" y2="368.6" stroke="#333" stroke-width="0.8" />
<text x="285.7" y="370.69" font-size="5.8" text-anchor="start" font-family="'DejaVu Sans', 'Liberation Sans', sans-serif" fill="#1a1a1a"  stroke="#1a1a1a" stroke-width="0.22">8</text>
<line x1="280.4" y1="381.4" x2="283.4" y2="381.4" stroke="#333" stroke-width="0.8" />
<text x="285.7" y="383.49" font-size="5.8" text-anchor="start" font-family="'DejaVu Sans', 'Liberation Sans', sans-serif" fill="#1a1a1a"  stroke="#1a1a1a" stroke-width="0.22">10</text>
<text x="268.7" y="405.37" font-size="6.9" text-anchor="start" font-family="'DejaVu Sans', 'Liberation Sans', sans-serif" fill="#1a1a1a"  stroke="#1a1a1a" stroke-width="0.22">-log10(pvalue)</text>
<rect x="268.5" y="409.05" width="11.7" height="2.82" fill="#760521" stroke="none" stroke-width="1" />
<rect x="268.5" y="411.57" width="11.7" height="2.82" fill="#960f27" stroke="none" stroke-width="1" />
<rect x="268.5" y="414.09" width="11.7" height="2.82" fill="#b3192c" stroke="none" stroke-width="1" />
<rect x="268.5" y="416.61" width="11.7" height="2.82" fill="#c2383a" stroke="none" stroke-width="1" />
<rect x="268.5" y="419.13" width="11.7" height="2.82" fill="#d25849" stroke="none" stroke-width="1" />
<rect x="268.5" y="421.65" width="11.7" height="2.82" fill="#de735c" stroke="none" stroke-width="1" />
<rect x="268.5" y="424.18" width="11.7" height="2.82" fill="#eb9172" stroke="none" stroke-width="1" />
<rect x="268.5" y="426.7" width="11.7" height="2.82" fill="#f5ac8b" stroke="none" stroke-width="1" />
<rect x="268.5" y="429.22" width="11.7" height="2.82" fill="#f9c2a7" stroke="none" stroke-width="1" />
<rect x="268.5" y="431.74" width="11.7" height="2.82" fill="#fdd9c4" stroke="none" stroke-width="1" />
<rect x="268.5" y="434.26" width="11.7" height="2.82" fill="#fbe6da" stroke="none" stroke-width="1" />
<rect x="268.5" y="436.78" width="11.7" height="2.82" fill="#f8f1ed" stroke="none" stroke-width="1" />
<rect x="268.5" y="439.3" width="11.7" height="2.82" fill="#eff3f5" stroke="none" stroke-width="1" />
<rect x="268.5" y="441.82" width="11.7" height="2.82" fill="#deebf2" stroke="none" stroke-width="1" />
<rect x="268.5" y="444.34" width="11.7" height="2.82" fill="#cfe4ef" stroke="none" stroke-width="1" />
<rect x="268.5" y="446.86" width="11.7" height="2.82" fill="#b3d6e8" stroke="none" stroke-width="1" />
<rect x="268.5" y="449.38" width="11.7" height="2.82" fill="#98c8e0" stroke="none" stroke-width="1" />
<rect x="268.5" y="451.9" width="11.7" height="2.82" fill="#7bb6d6" stroke="none" stroke-width="1" />
<rect x="268.5" y="454.43" width="11.7" height="2.82" fill="#59a1ca" stroke="none" stroke-width="1" />
<rect x="268.5" y="456.95" width="11.7" height="2.82" fill="#3e8cbf" stroke="none" stroke-width="1" />
<rect x="268.5" y="459.47" width="11.7" height="2.82" fill="#307ab6" stroke="none" stroke-width="1" />
<rect x="268.5" y="461.99" width="11.7" height="2.82" fill="#2267ac" stroke="none" stroke-width="1" />
<rect x="268.5" y="464.51" width="11.7" height="2.82" fill="#15508d" stroke="none" stroke-width="1" />
<rect x="268.5" y="467.03" width="11.7" height="2.82" fill="#0a3b70" stroke="none" stroke-width="1" />
<line x1="280.2" y1="409.1" x2="280.2" y2="469.6" stroke="#555" stroke-width="0.8" />
<line x1="280.2" y1="409.1" x2="282.7" y2="409.1" stroke="#888" stroke-width="0.7" />
<line x1="280.2" y1="469.6" x2="282.7" y2="469.6" stroke="#888" stroke-width="0.7" />
<line x1="280.2" y1="413.4" x2="283.2" y2="413.4" stroke="#333" stroke-width="0.8" />
<text x="285.4" y="415.49" font-size="5.8" text-anchor="start" font-family="'DejaVu Sans', 'Liberation Sans', sans-serif" fill="#1a1a1a"  stroke="#1a1a1a" stroke-width="0.22">2.0</text>
<line x1="280.2" y1="422.5" x2="283.2" y2="422.5" stroke="#333" stroke-width="0.8" />
<text x="285.4" y="424.59" font-size="5.8" text-anchor="start" font-family="'DejaVu Sans', 'Liberation Sans', sans-serif" fill="#1a1a1a"  stroke="#1a1a1a" stroke-width="0.22">2.2</text>
<line x1="280.2" y1="431.3" x2="283.2" y2="431.3" stroke="#333" stroke-width="0.8" />
<text x="285.4" y="433.39" font-size="5.8" text-anchor="start" font-family="'DejaVu Sans', 'Liberation Sans', sans-serif" fill="#1a1a1a"  stroke="#1a1a1a" stroke-width="0.22">2.4</text>
<line x1="280.2" y1="440.3" x2="283.2" y2="440.3" stroke="#333" stroke-width="0.8" />
<text x="285.4" y="442.39" font-size="5.8" text-anchor="start" font-family="'DejaVu Sans', 'Liberation Sans', sans-serif" fill="#1a1a1a"  stroke="#1a1a1a" stroke-width="0.22">2.6</text>
<line x1="280.2" y1="449.3" x2="283.2" y2="449.3" stroke="#333" stroke-width="0.8" />
<text x="285.4" y="451.39" font-size="5.8" text-anchor="start" font-family="'DejaVu Sans', 'Liberation Sans', sans-serif" fill="#1a1a1a"  stroke="#1a1a1a" stroke-width="0.22">2.8</text>
<line x1="280.2" y1="458.2" x2="283.2" y2="458.2" stroke="#333" stroke-width="0.8" />
<text x="285.4" y="460.29" font-size="5.8" text-anchor="start" font-family="'DejaVu Sans', 'Liberation Sans', sans-serif" fill="#1a1a1a"  stroke="#1a1a1a" stroke-width="0.22">3.0</text>
<line x1="280.2" y1="467.2" x2="283.2" y2="467.2" stroke="#333" stroke-width="0.8" />
<text x="285.4" y="469.29" font-size="5.8" text-anchor="start" font-family="'DejaVu Sans', 'Liberation Sans', sans-serif" fill="#1a1a1a"  stroke="#1a1a1a" stroke-width="0.22">3.2</text>
<g clip-path="url(#clipD)">
<rect x="497.4" y="288.2" width="134.3" height="205.4" fill="#fff" stroke="none" stroke-width="1" />
<line x1="536.4" y1="288.2" x2="536.4" y2="493.6" stroke="#e9e9e9" stroke-width="0.65" />
<line x1="578.4" y1="288.2" x2="578.4" y2="493.6" stroke="#e9e9e9" stroke-width="0.65" />
<line x1="620.1" y1="288.2" x2="620.1" y2="493.6" stroke="#e9e9e9" stroke-width="0.65" />
<line x1="497.4" y1="298.6" x2="631.7" y2="298.6" stroke="#e9e9e9" stroke-width="0.65" />
<line x1="497.4" y1="319.1" x2="631.7" y2="319.1" stroke="#e9e9e9" stroke-width="0.65" />
<line x1="497.4" y1="339.6" x2="631.7" y2="339.6" stroke="#e9e9e9" stroke-width="0.65" />
<line x1="497.4" y1="360.1" x2="631.7" y2="360.1" stroke="#e9e9e9" stroke-width="0.65" />
<line x1="497.4" y1="380.6" x2="631.7" y2="380.6" stroke="#e9e9e9" stroke-width="0.65" />
<line x1="497.4" y1="401.1" x2="631.7" y2="401.1" stroke="#e9e9e9" stroke-width="0.65" />
<line x1="497.4" y1="421.6" x2="631.7" y2="421.6" stroke="#e9e9e9" stroke-width="0.65" />
<line x1="497.4" y1="442.1" x2="631.7" y2="442.1" stroke="#e9e9e9" stroke-width="0.65" />
<line x1="497.4" y1="462.6" x2="631.7" y2="462.6" stroke="#e9e9e9" stroke-width="0.65" />
<line x1="497.4" y1="483.1" x2="631.7" y2="483.1" stroke="#e9e9e9" stroke-width="0.65" />
<circle cx="620.1" cy="298.6" r="5.92" fill="#c43a36"/>
<circle cx="564.4" cy="319.1" r="4.42" fill="#0a2a5c"/>
<circle cx="564.4" cy="339.6" r="4.42" fill="#3f8cc4"/>
<circle cx="564.4" cy="360.1" r="4.42" fill="#e8edf2"/>
<circle cx="564.4" cy="380.6" r="4.42" fill="#e8866a"/>
<circle cx="564.4" cy="401.1" r="4.42" fill="#800d24"/>
<circle cx="508.6" cy="421.6" r="2.42" fill="#b5212c"/>
<circle cx="508.6" cy="442.1" r="2.42" fill="#a61a2b"/>
<circle cx="508.6" cy="462.6" r="2.42" fill="#8c1127"/>
<circle cx="508.6" cy="483.1" r="2.42" fill="#6b081e"/>
<line x1="497.4" y1="288.2" x2="631.7" y2="288.2" stroke="#666" stroke-width="1" />
<line x1="631.7" y1="288.2" x2="631.7" y2="493.6" stroke="#666" stroke-width="1" />
<line x1="497.4" y1="287.7" x2="497.4" y2="494.1" stroke="#2a2a2a" stroke-width="1" />
<line x1="496.9" y1="493.6" x2="632.2" y2="493.6" stroke="#2a2a2a" stroke-width="1" />
<line x1="493.9" y1="298.6" x2="497.4" y2="298.6" stroke="#222" stroke-width="0.9" />
<text x="491.9" y="300.53" font-size="7.15" text-anchor="end" font-family="'Liberation Sans', sans-serif" fill="#1a1a1a"  stroke="#1a1a1a" stroke-width="0.1">Pathways in cancer</text>
<line x1="493.9" y1="319.1" x2="497.4" y2="319.1" stroke="#222" stroke-width="0.9" />
<text x="491.9" y="321.03" font-size="7.15" text-anchor="end" font-family="'Liberation Sans', sans-serif" fill="#1a1a1a"  stroke="#1a1a1a" stroke-width="0.1">Bile secretion</text>
<line x1="493.9" y1="339.6" x2="497.4" y2="339.6" stroke="#222" stroke-width="0.9" />
<text x="491.9" y="341.53" font-size="7.15" text-anchor="end" font-family="'Liberation Sans', sans-serif" fill="#1a1a1a"  stroke="#1a1a1a" stroke-width="0.1">TGF-beta signaling pathway</text>
<line x1="493.9" y1="360.1" x2="497.4" y2="360.1" stroke="#222" stroke-width="0.9" />
<text x="491.9" y="362.03" font-size="7.15" text-anchor="end" font-family="'Liberation Sans', sans-serif" fill="#1a1a1a"  stroke="#1a1a1a" stroke-width="0.1">Fluid shear stress and atherosclerosis</text>
<line x1="493.9" y1="380.6" x2="497.4" y2="380.6" stroke="#222" stroke-width="0.9" />
<text x="491.9" y="382.53" font-size="7.15" text-anchor="end" font-family="'Liberation Sans', sans-serif" fill="#1a1a1a"  stroke="#1a1a1a" stroke-width="0.1">Proteoglycans in cancer</text>
<line x1="493.9" y1="401.1" x2="497.4" y2="401.1" stroke="#222" stroke-width="0.9" />
<text x="491.9" y="403.03" font-size="7.15" text-anchor="end" font-family="'Liberation Sans', sans-serif" fill="#1a1a1a" textLength="127.2" lengthAdjust="spacingAndGlyphs"  stroke="#1a1a1a" stroke-width="0.1">Cytokine-cytokine receptor interaction</text>
<line x1="493.9" y1="421.6" x2="497.4" y2="421.6" stroke="#222" stroke-width="0.9" />
<text x="491.9" y="423.53" font-size="7.15" text-anchor="end" font-family="'Liberation Sans', sans-serif" fill="#1a1a1a"  stroke="#1a1a1a" stroke-width="0.1">Malaria</text>
<line x1="493.9" y1="442.1" x2="497.4" y2="442.1" stroke="#222" stroke-width="0.9" />
<text x="491.9" y="444.03" font-size="7.15" text-anchor="end" font-family="'Liberation Sans', sans-serif" fill="#1a1a1a" textLength="80.6" lengthAdjust="spacingAndGlyphs"  stroke="#1a1a1a" stroke-width="0.1">Notch signaling pathway</text>
<line x1="493.9" y1="462.6" x2="497.4" y2="462.6" stroke="#222" stroke-width="0.9" />
<text x="491.9" y="464.53" font-size="7.15" text-anchor="end" font-family="'Liberation Sans', sans-serif" fill="#1a1a1a" textLength="61.8" lengthAdjust="spacingAndGlyphs"  stroke="#1a1a1a" stroke-width="0.1">Mineral absorption</text>
<line x1="493.9" y1="483.1" x2="497.4" y2="483.1" stroke="#222" stroke-width="0.9" />
<text x="491.9" y="485.03" font-size="7.15" text-anchor="end" font-family="'Liberation Sans', sans-serif" fill="#1a1a1a"  stroke="#1a1a1a" stroke-width="0.1">Basal cell carcinoma</text>
<line x1="536.4" y1="493.6" x2="536.4" y2="496.9" stroke="#222" stroke-width="0.9" />
<text x="536.4" y="502.83" font-size="6.2" text-anchor="middle" font-family="'Liberation Sans', sans-serif" fill="#1a1a1a"  stroke="#1a1a1a" stroke-width="0.1">0.10</text>
<line x1="578.4" y1="493.6" x2="578.4" y2="496.9" stroke="#222" stroke-width="0.9" />
<text x="578.4" y="502.83" font-size="6.2" text-anchor="middle" font-family="'Liberation Sans', sans-serif" fill="#1a1a1a"  stroke="#1a1a1a" stroke-width="0.1">0.15</text>
<line x1="620.1" y1="493.6" x2="620.1" y2="496.9" stroke="#222" stroke-width="0.9" />
<text x="620.1" y="502.83" font-size="6.2" text-anchor="middle" font-family="'Liberation Sans', sans-serif" fill="#1a1a1a"  stroke="#1a1a1a" stroke-width="0.1">0.20</text>
<line x1="497.4" y1="493.6" x2="497.4" y2="496.6" stroke="#222" stroke-width="0.9" />
<line x1="631.7" y1="493.6" x2="631.7" y2="496.6" stroke="#222" stroke-width="0.9" />
<text x="564.4" y="511.44" font-size="7.15" text-anchor="middle" font-family="'Liberation Sans', sans-serif" fill="#1a1a1a"  stroke="#1a1a1a" stroke-width="0.1">GeneRatio</text>
<text x="567.2" y="278.4" font-size="21.4" text-anchor="middle" font-family="'DejaVu Sans Condensed', 'DejaVu Sans', 'Liberation Sans', sans-serif" fill="#000" textLength="53.5" lengthAdjust="spacingAndGlyphs" stroke="#000" stroke-width="0.9">KEGG</text>
<text transform="translate(374.7,288.1) scale(1,1)" font-size="30.2" font-family="'Liberation Serif', serif" fill="#000">D</text>
<text x="637.4" y="320.37" font-size="7.15" text-anchor="start" font-family="'Liberation Sans', sans-serif" fill="#1a1a1a"  stroke="#1a1a1a" stroke-width="0.1">Count</text>
<circle cx="642.9" cy="325.6" r="2.1" fill="#454545"/>
<circle cx="642.9" cy="337.1" r="2.9" fill="#454545"/>
<circle cx="642.9" cy="348.4" r="3.5" fill="#454545"/>
<circle cx="642.9" cy="359.8" r="4.2" fill="#454545"/>
<circle cx="642.9" cy="371.2" r="5" fill="#454545"/>
<circle cx="642.9" cy="382.4" r="5.7" fill="#454545"/>
<line x1="648.4" y1="325.6" x2="648.4" y2="382.4" stroke="#444" stroke-width="0.9" />
<line x1="648.4" y1="325.6" x2="651.4" y2="325.6" stroke="#333" stroke-width="0.8" />
<text x="653.9" y="327.83" font-size="6.2" text-anchor="start" font-family="'Liberation Sans', sans-serif" fill="#1a1a1a"  stroke="#1a1a1a" stroke-width="0.1">1.0</text>
<line x1="648.4" y1="340" x2="651.4" y2="340" stroke="#333" stroke-width="0.8" />
<text x="653.9" y="342.23" font-size="6.2" text-anchor="start" font-family="'Liberation Sans', sans-serif" fill="#1a1a1a"  stroke="#1a1a1a" stroke-width="0.1">1.5</text>
<line x1="648.4" y1="354.2" x2="651.4" y2="354.2" stroke="#333" stroke-width="0.8" />
<text x="653.9" y="356.43" font-size="6.2" text-anchor="start" font-family="'Liberation Sans', sans-serif" fill="#1a1a1a"  stroke="#1a1a1a" stroke-width="0.1">2.0</text>
<line x1="648.4" y1="368.4" x2="651.4" y2="368.4" stroke="#333" stroke-width="0.8" />
<text x="653.9" y="370.63" font-size="6.2" text-anchor="start" font-family="'Liberation Sans', sans-serif" fill="#1a1a1a"  stroke="#1a1a1a" stroke-width="0.1">2.5</text>
<line x1="648.4" y1="382.4" x2="651.4" y2="382.4" stroke="#333" stroke-width="0.8" />
<text x="653.9" y="384.63" font-size="6.2" text-anchor="start" font-family="'Liberation Sans', sans-serif" fill="#1a1a1a"  stroke="#1a1a1a" stroke-width="0.1">3.0</text>
<text x="637.7" y="406.04" font-size="7.15" text-anchor="start" font-family="'Liberation Sans', sans-serif" fill="#1a1a1a"  stroke="#1a1a1a" stroke-width="0.1">-log10(pvalue)</text>
<rect x="637.2" y="409.05" width="11.2" height="2.78" fill="#760521" stroke="none" stroke-width="1" />
<rect x="637.2" y="411.53" width="11.2" height="2.78" fill="#960f27" stroke="none" stroke-width="1" />
<rect x="637.2" y="414.02" width="11.2" height="2.78" fill="#b3192c" stroke="none" stroke-width="1" />
<rect x="637.2" y="416.5" width="11.2" height="2.78" fill="#c2383a" stroke="none" stroke-width="1" />
<rect x="637.2" y="418.98" width="11.2" height="2.78" fill="#d25849" stroke="none" stroke-width="1" />
<rect x="637.2" y="421.47" width="11.2" height="2.78" fill="#de735c" stroke="none" stroke-width="1" />
<rect x="637.2" y="423.95" width="11.2" height="2.78" fill="#eb9172" stroke="none" stroke-width="1" />
<rect x="637.2" y="426.43" width="11.2" height="2.78" fill="#f5ac8b" stroke="none" stroke-width="1" />
<rect x="637.2" y="428.92" width="11.2" height="2.78" fill="#f9c2a7" stroke="none" stroke-width="1" />
<rect x="637.2" y="431.4" width="11.2" height="2.78" fill="#fdd9c4" stroke="none" stroke-width="1" />
<rect x="637.2" y="433.88" width="11.2" height="2.78" fill="#fbe6da" stroke="none" stroke-width="1" />
<rect x="637.2" y="436.37" width="11.2" height="2.78" fill="#f8f1ed" stroke="none" stroke-width="1" />
<rect x="637.2" y="438.85" width="11.2" height="2.78" fill="#eff3f5" stroke="none" stroke-width="1" />
<rect x="637.2" y="441.33" width="11.2" height="2.78" fill="#deebf2" stroke="none" stroke-width="1" />
<rect x="637.2" y="443.82" width="11.2" height="2.78" fill="#cfe4ef" stroke="none" stroke-width="1" />
<rect x="637.2" y="446.3" width="11.2" height="2.78" fill="#b3d6e8" stroke="none" stroke-width="1" />
<rect x="637.2" y="448.78" width="11.2" height="2.78" fill="#98c8e0" stroke="none" stroke-width="1" />
<rect x="637.2" y="451.27" width="11.2" height="2.78" fill="#7bb6d6" stroke="none" stroke-width="1" />
<rect x="637.2" y="453.75" width="11.2" height="2.78" fill="#59a1ca" stroke="none" stroke-width="1" />
<rect x="637.2" y="456.23" width="11.2" height="2.78" fill="#3e8cbf" stroke="none" stroke-width="1" />
<rect x="637.2" y="458.72" width="11.2" height="2.78" fill="#307ab6" stroke="none" stroke-width="1" />
<rect x="637.2" y="461.2" width="11.2" height="2.78" fill="#2267ac" stroke="none" stroke-width="1" />
<rect x="637.2" y="463.68" width="11.2" height="2.78" fill="#15508d" stroke="none" stroke-width="1" />
<rect x="637.2" y="466.17" width="11.2" height="2.78" fill="#0a3b70" stroke="none" stroke-width="1" />
<line x1="648.4" y1="409.1" x2="648.4" y2="468.7" stroke="#555" stroke-width="0.8" />
<line x1="648.4" y1="409.1" x2="650.9" y2="409.1" stroke="#888" stroke-width="0.7" />
<line x1="648.4" y1="468.7" x2="650.9" y2="468.7" stroke="#888" stroke-width="0.7" />
<line x1="648.4" y1="411.2" x2="651.4" y2="411.2" stroke="#333" stroke-width="0.8" />
<text x="653.9" y="413.43" font-size="6.2" text-anchor="start" font-family="'Liberation Sans', sans-serif" fill="#1a1a1a"  stroke="#1a1a1a" stroke-width="0.1">1.0</text>
<line x1="648.4" y1="422" x2="651.4" y2="422" stroke="#333" stroke-width="0.8" />
<text x="653.9" y="424.23" font-size="6.2" text-anchor="start" font-family="'Liberation Sans', sans-serif" fill="#1a1a1a"  stroke="#1a1a1a" stroke-width="0.1">1.2</text>
<line x1="648.4" y1="432.4" x2="651.4" y2="432.4" stroke="#333" stroke-width="0.8" />
<text x="653.9" y="434.63" font-size="6.2" text-anchor="start" font-family="'Liberation Sans', sans-serif" fill="#1a1a1a"  stroke="#1a1a1a" stroke-width="0.1">1.4</text>
<line x1="648.4" y1="442.6" x2="651.4" y2="442.6" stroke="#333" stroke-width="0.8" />
<text x="653.9" y="444.83" font-size="6.2" text-anchor="start" font-family="'Liberation Sans', sans-serif" fill="#1a1a1a"  stroke="#1a1a1a" stroke-width="0.1">1.6</text>
<line x1="648.4" y1="453.1" x2="651.4" y2="453.1" stroke="#333" stroke-width="0.8" />
<text x="653.9" y="455.33" font-size="6.2" text-anchor="start" font-family="'Liberation Sans', sans-serif" fill="#1a1a1a"  stroke="#1a1a1a" stroke-width="0.1">1.8</text>
<line x1="648.4" y1="463.4" x2="651.4" y2="463.4" stroke="#333" stroke-width="0.8" />
<text x="653.9" y="465.63" font-size="6.2" text-anchor="start" font-family="'Liberation Sans', sans-serif" fill="#1a1a1a"  stroke="#1a1a1a" stroke-width="0.1">2.0</text>
</g>
<rect x="116.5" y="567.5" width="169.7" height="164.9" fill="#fff" stroke="none" stroke-width="1" />
<line x1="116.5" y1="584.2" x2="286.2" y2="584.2" stroke="#ececec" stroke-width="0.6" />
<line x1="116.5" y1="604" x2="286.2" y2="604" stroke="#ececec" stroke-width="0.6" />
<line x1="116.5" y1="623.7" x2="286.2" y2="623.7" stroke="#ececec" stroke-width="0.6" />
<line x1="116.5" y1="643.5" x2="286.2" y2="643.5" stroke="#ececec" stroke-width="0.6" />
<line x1="116.5" y1="574.3" x2="286.2" y2="574.3" stroke="#dcdcdc" stroke-width="1" />
<line x1="116.5" y1="594.1" x2="286.2" y2="594.1" stroke="#dcdcdc" stroke-width="1" />
<line x1="116.5" y1="613.8" x2="286.2" y2="613.8" stroke="#dcdcdc" stroke-width="1" />
<line x1="116.5" y1="633.6" x2="286.2" y2="633.6" stroke="#dcdcdc" stroke-width="1" />
<line x1="116.5" y1="653.7" x2="286.2" y2="653.7" stroke="#dcdcdc" stroke-width="1" />
<line x1="144.51" y1="567.5" x2="144.51" y2="658.5" stroke="#e0e0e0" stroke-width="0.8" />
<line x1="144.51" y1="683.3" x2="144.51" y2="732.4" stroke="#e0e0e0" stroke-width="0.8" />
<line x1="200.55" y1="567.5" x2="200.55" y2="658.5" stroke="#e0e0e0" stroke-width="0.8" />
<line x1="200.55" y1="683.3" x2="200.55" y2="732.4" stroke="#e0e0e0" stroke-width="0.8" />
<line x1="256.58" y1="567.5" x2="256.58" y2="658.5" stroke="#e0e0e0" stroke-width="0.8" />
<line x1="256.58" y1="683.3" x2="256.58" y2="732.4" stroke="#e0e0e0" stroke-width="0.8" />
<line x1="172.53" y1="567.5" x2="172.53" y2="658.5" stroke="#e0e0e0" stroke-width="0.8" />
<line x1="172.53" y1="683.3" x2="172.53" y2="732.4" stroke="#e0e0e0" stroke-width="0.8" />
<line x1="228.56" y1="567.5" x2="228.56" y2="658.5" stroke="#e0e0e0" stroke-width="0.8" />
<line x1="228.56" y1="683.3" x2="228.56" y2="732.4" stroke="#e0e0e0" stroke-width="0.8" />
<line x1="116.5" y1="696.3" x2="286.2" y2="696.3" stroke="#dcdcdc" stroke-width="0.9" />
<line x1="116.5" y1="702.3" x2="286.2" y2="702.3" stroke="#ececec" stroke-width="0.6" />
<line x1="116.5" y1="708.3" x2="286.2" y2="708.3" stroke="#dcdcdc" stroke-width="0.9" />
<line x1="116.5" y1="714.3" x2="286.2" y2="714.3" stroke="#ececec" stroke-width="0.6" />
<line x1="116.5" y1="720.3" x2="286.2" y2="720.3" stroke="#dcdcdc" stroke-width="0.9" />
<line x1="116.5" y1="726.3" x2="286.2" y2="726.3" stroke="#ececec" stroke-width="0.6" />
<line x1="116.5" y1="690.3" x2="286.2" y2="690.3" stroke="#ececec" stroke-width="0.6" />
<line x1="116.5" y1="653.7" x2="286.2" y2="653.7" stroke="#6a6a6a" stroke-width="0.9" stroke-dasharray="4.6 3.2"/>
<polygon points="116.5,732.4 116.5,684.27 118.53,685.02 120.56,685.78 122.59,686.53 124.62,687.29 126.65,688.06 128.68,688.82 130.71,689.59 132.74,690.37 134.77,691.15 136.8,691.94 138.83,692.73 140.86,693.53 142.89,694.34 144.92,695.17 146.95,696 148.98,696.84 151.01,697.69 153.04,698.55 155.07,699.42 157.1,700.3 159.13,701.2 161.16,702.1 163.19,703.02 165.22,703.94 167.25,704.88 169.28,705.83 171.31,706.79 173.34,707.76 175.37,708.74 177.4,709.73 179.43,710.72 181.46,711.71 183.49,712.7 185.52,713.68 187.55,714.65 189.58,715.61 191.61,716.54 193.64,717.46 195.67,718.35 197.7,719.21 199.73,720.04 201.76,720.84 203.79,721.6 205.82,722.33 207.85,723.02 209.88,723.68 211.91,724.32 213.94,724.92 215.97,725.51 218,726.06 220.03,726.6 222.06,727.11 224.09,727.61 226.12,728.09 228.15,728.55 230.18,729 232.21,729.44 234.24,729.85 236.27,730.25 238.3,730.62 240.33,730.96 242.36,731.28 244.39,731.56 246.42,731.8 248.45,732.01 250.48,732.18 252.51,732.3 254.54,732.37 256.58,732.4" fill="#bebebe"/>
<rect x="116.5" y="678.1" width="5.7" height="5.2" fill="#b2182b" stroke="none" stroke-width="1" />
<rect x="122" y="678.1" width="16.3" height="5.2" fill="#f4694d" stroke="none" stroke-width="1" />
<rect x="138.1" y="678.1" width="5.1" height="5.2" fill="#fcae91" stroke="none" stroke-width="1" />
<rect x="143" y="678.1" width="3" height="5.2" fill="#fee0d2" stroke="none" stroke-width="1" />
<rect x="145.8" y="678.1" width="13.4" height="5.2" fill="#eef1fa" stroke="none" stroke-width="1" />
<rect x="159" y="678.1" width="11.6" height="5.2" fill="#bdd7e7" stroke="none" stroke-width="1" />
<rect x="170.4" y="678.1" width="112.8" height="5.2" fill="#6baed6" stroke="none" stroke-width="1" />
<rect x="283" y="678.1" width="3.4" height="5.2" fill="#2171b5" stroke="none" stroke-width="1" />
<line x1="118.55" y1="658.5" x2="118.55" y2="678.1" stroke="#000" stroke-width="1.3" stroke-opacity="0.95"/>
<line x1="118.55" y1="678.1" x2="118.55" y2="683.3" stroke="#000" stroke-width="1.3" stroke-opacity="0.11"/>
<line x1="191.5" y1="658.5" x2="191.5" y2="678.1" stroke="#000" stroke-width="0.8" stroke-opacity="0.85"/>
<line x1="191.5" y1="678.1" x2="191.5" y2="683.3" stroke="#000" stroke-width="0.8" stroke-opacity="0.1"/>
<line x1="231.9" y1="658.5" x2="231.9" y2="678.1" stroke="#000" stroke-width="0.9" stroke-opacity="0.55"/>
<line x1="231.9" y1="678.1" x2="231.9" y2="683.3" stroke="#000" stroke-width="0.9" stroke-opacity="0.07"/>
<line x1="240.4" y1="658.5" x2="240.4" y2="678.1" stroke="#000" stroke-width="0.9" stroke-opacity="0.55"/>
<line x1="240.4" y1="678.1" x2="240.4" y2="683.3" stroke="#000" stroke-width="0.9" stroke-opacity="0.07"/>
<line x1="243.3" y1="658.5" x2="243.3" y2="678.1" stroke="#000" stroke-width="0.8" stroke-opacity="0.8"/>
<line x1="243.3" y1="678.1" x2="243.3" y2="683.3" stroke="#000" stroke-width="0.8" stroke-opacity="0.1"/>
<line x1="256.8" y1="658.5" x2="256.8" y2="678.1" stroke="#000" stroke-width="0.9" stroke-opacity="0.85"/>
<line x1="256.8" y1="678.1" x2="256.8" y2="683.3" stroke="#000" stroke-width="0.9" stroke-opacity="0.1"/>
<line x1="258.9" y1="658.5" x2="258.9" y2="678.1" stroke="#000" stroke-width="0.9" stroke-opacity="0.6"/>
<line x1="258.9" y1="678.1" x2="258.9" y2="683.3" stroke="#000" stroke-width="0.9" stroke-opacity="0.07"/>
<line x1="264" y1="658.5" x2="264" y2="678.1" stroke="#000" stroke-width="0.9" stroke-opacity="0.55"/>
<line x1="264" y1="678.1" x2="264" y2="683.3" stroke="#000" stroke-width="0.9" stroke-opacity="0.07"/>
<line x1="275.7" y1="658.5" x2="275.7" y2="678.1" stroke="#000" stroke-width="0.9" stroke-opacity="0.5"/>
<line x1="275.7" y1="678.1" x2="275.7" y2="683.3" stroke="#000" stroke-width="0.9" stroke-opacity="0.06"/>
<line x1="280.5" y1="658.5" x2="280.5" y2="678.1" stroke="#000" stroke-width="0.9" stroke-opacity="0.7"/>
<line x1="280.5" y1="678.1" x2="280.5" y2="683.3" stroke="#000" stroke-width="0.9" stroke-opacity="0.08"/>
<line x1="281.6" y1="658.5" x2="281.6" y2="678.1" stroke="#000" stroke-width="0.8" stroke-opacity="0.6"/>
<line x1="281.6" y1="678.1" x2="281.6" y2="683.3" stroke="#000" stroke-width="0.8" stroke-opacity="0.07"/>
<line x1="285.3" y1="658.5" x2="285.3" y2="678.1" stroke="#000" stroke-width="0.9" stroke-opacity="0.6"/>
<line x1="285.3" y1="678.1" x2="285.3" y2="683.3" stroke="#000" stroke-width="0.9" stroke-opacity="0.07"/>
<polyline points="117.3,653.7 117.9,653.7 118.4,626 118.7,625.6 118.9,600 119.3,599.4 119.6,571.6 191.4,613.6 191.6,604.3 231.7,627.1 232.6,625.6 240.4,630.3 241,629.5 243.3,630.4 243.9,629.6 256.6,636.9 257.2,636.4 258.9,637.4 264,640.2 275.7,647 286,653.2" fill="none" stroke="#36a6c9" stroke-width="1.1" stroke-linejoin="round"/>
<rect x="116.5" y="567.5" width="169.7" height="164.9" fill="none" stroke="#222" stroke-width="1.1" />
<line x1="116.5" y1="658.5" x2="286.2" y2="658.5" stroke="#444" stroke-width="1" />
<line x1="116.5" y1="683.3" x2="286.2" y2="683.3" stroke="#111" stroke-width="1" />
<line x1="112.9" y1="574.3" x2="116.5" y2="574.3" stroke="#222" stroke-width="0.9" />
<text x="110.2" y="576.95" font-size="7.35" text-anchor="end" font-family="'Liberation Sans', sans-serif" fill="#1a1a1a"  stroke="#1a1a1a" stroke-width="0.13">0.8</text>
<line x1="112.9" y1="594.1" x2="116.5" y2="594.1" stroke="#222" stroke-width="0.9" />
<text x="110.2" y="596.75" font-size="7.35" text-anchor="end" font-family="'Liberation Sans', sans-serif" fill="#1a1a1a"  stroke="#1a1a1a" stroke-width="0.13">0.6</text>
<line x1="112.9" y1="613.8" x2="116.5" y2="613.8" stroke="#222" stroke-width="0.9" />
<text x="110.2" y="616.45" font-size="7.35" text-anchor="end" font-family="'Liberation Sans', sans-serif" fill="#1a1a1a"  stroke="#1a1a1a" stroke-width="0.13">0.4</text>
<line x1="112.9" y1="633.6" x2="116.5" y2="633.6" stroke="#222" stroke-width="0.9" />
<text x="110.2" y="636.25" font-size="7.35" text-anchor="end" font-family="'Liberation Sans', sans-serif" fill="#1a1a1a"  stroke="#1a1a1a" stroke-width="0.13">0.2</text>
<line x1="112.9" y1="653.7" x2="116.5" y2="653.7" stroke="#222" stroke-width="0.9" />
<text x="110.2" y="656.35" font-size="7.35" text-anchor="end" font-family="'Liberation Sans', sans-serif" fill="#1a1a1a"  stroke="#1a1a1a" stroke-width="0.13">0.0</text>
<line x1="112.9" y1="696.3" x2="116.5" y2="696.3" stroke="#222" stroke-width="0.9" />
<text x="110" y="699.44" font-size="8.72" text-anchor="end" font-family="'Liberation Sans', sans-serif" fill="#1a1a1a"  stroke="#1a1a1a" stroke-width="0.13">0.75</text>
<line x1="112.9" y1="708.3" x2="116.5" y2="708.3" stroke="#222" stroke-width="0.9" />
<text x="110" y="711.44" font-size="8.72" text-anchor="end" font-family="'Liberation Sans', sans-serif" fill="#1a1a1a"  stroke="#1a1a1a" stroke-width="0.13">0.50</text>
<line x1="112.9" y1="720.3" x2="116.5" y2="720.3" stroke="#222" stroke-width="0.9" />
<text x="110" y="723.44" font-size="8.72" text-anchor="end" font-family="'Liberation Sans', sans-serif" fill="#1a1a1a"  stroke="#1a1a1a" stroke-width="0.13">0.25</text>
<line x1="112.9" y1="732.4" x2="116.5" y2="732.4" stroke="#222" stroke-width="0.9" />
<text x="110" y="735.54" font-size="8.72" text-anchor="end" font-family="'Liberation Sans', sans-serif" fill="#1a1a1a"  stroke="#1a1a1a" stroke-width="0.13">0.00</text>
<line x1="116.5" y1="732.4" x2="116.5" y2="735.9" stroke="#222" stroke-width="0.9" />
<line x1="172.53" y1="732.4" x2="172.53" y2="735.9" stroke="#222" stroke-width="0.9" />
<line x1="228.56" y1="732.4" x2="228.56" y2="735.9" stroke="#222" stroke-width="0.9" />
<line x1="284.59" y1="732.4" x2="284.59" y2="735.9" stroke="#222" stroke-width="0.9" />
<g clip-path="url(#clipE)">
<text x="116.5" y="745.39" font-size="8.72" text-anchor="middle" font-family="'Liberation Sans', sans-serif" fill="#1a1a1a"  stroke="#1a1a1a" stroke-width="0.13">0</text>
<text x="172.53" y="745.39" font-size="8.72" text-anchor="middle" font-family="'Liberation Sans', sans-serif" fill="#1a1a1a"  stroke="#1a1a1a" stroke-width="0.13">10000</text>
<text x="228.56" y="745.39" font-size="8.72" text-anchor="middle" font-family="'Liberation Sans', sans-serif" fill="#1a1a1a"  stroke="#1a1a1a" stroke-width="0.13">20000</text>
<text x="284.59" y="745.39" font-size="8.72" text-anchor="middle" font-family="'Liberation Sans', sans-serif" fill="#1a1a1a"  stroke="#1a1a1a" stroke-width="0.13">30000</text>
</g>
<text x="201.35" y="756.72" font-size="8.72" text-anchor="middle" font-family="'Liberation Sans', sans-serif" fill="#1a1a1a"  stroke="#1a1a1a" stroke-width="0.13">Rank in Ordered Dataset</text>
<text transform="translate(94.14,613.5) rotate(-90)" font-size="8.72" text-anchor="middle" font-family="'Liberation Sans', sans-serif" fill="#1a1a1a" stroke="#1a1a1a" stroke-width="0.2">Enrichment Score</text>
<text transform="translate(87.74,708) rotate(-90)" font-size="8.72" text-anchor="middle" font-family="'Liberation Sans', sans-serif" fill="#1a1a1a" stroke="#1a1a1a" stroke-width="0.2">Ranked list metric</text>
<text x="201.75" y="553.72" font-size="8.72" text-anchor="middle" font-family="'Liberation Sans', sans-serif" fill="#1a1a1a"  stroke="#1a1a1a" stroke-width="0.13">[WikiPathways] Mitochondrial Complex</text>
<text x="201.75" y="563.12" font-size="8.72" text-anchor="middle" font-family="'Liberation Sans', sans-serif" fill="#1a1a1a"  stroke="#1a1a1a" stroke-width="0.13">Iii Assembly</text>
<rect x="236.9" y="569.7" width="46.5" height="27.5" fill="#fff" stroke="none" stroke-width="1" />
<text x="282.4" y="576.98" font-size="7.45" text-anchor="end" font-family="'Liberation Sans', sans-serif" fill="#1a1a1a"  stroke="#1a1a1a" stroke-width="0.1"><tspan font-style="italic">NES</tspan> = 1.663</text>
<text x="282.4" y="586.08" font-size="7.45" text-anchor="end" font-family="'Liberation Sans', sans-serif" fill="#1a1a1a"  stroke="#1a1a1a" stroke-width="0.1"><tspan font-style="italic">P.adj</tspan> = 0.025</text>
<text x="282.4" y="595.08" font-size="7.45" text-anchor="end" font-family="'Liberation Sans', sans-serif" fill="#1a1a1a"  stroke="#1a1a1a" stroke-width="0.1"><tspan font-style="italic">FDR</tspan> = 0.023</text>
<text transform="translate(23.8,555.6) scale(0.9,1)" font-size="31" font-family="'Liberation Serif', serif" fill="#000">E</text>
<rect x="472.5" y="557.5" width="170" height="175" fill="#fff" stroke="none" stroke-width="1" />
<line x1="472.5" y1="582.05" x2="642.5" y2="582.05" stroke="#ececec" stroke-width="0.6" />
<line x1="472.5" y1="609.35" x2="642.5" y2="609.35" stroke="#ececec" stroke-width="0.6" />
<line x1="472.5" y1="636.55" x2="642.5" y2="636.55" stroke="#ececec" stroke-width="0.6" />
<line x1="472.5" y1="568.4" x2="642.5" y2="568.4" stroke="#dcdcdc" stroke-width="1" />
<line x1="472.5" y1="595.7" x2="642.5" y2="595.7" stroke="#dcdcdc" stroke-width="1" />
<line x1="472.5" y1="622.9" x2="642.5" y2="622.9" stroke="#dcdcdc" stroke-width="1" />
<line x1="472.5" y1="650.4" x2="642.5" y2="650.4" stroke="#dcdcdc" stroke-width="1" />
<line x1="500.55" y1="557.5" x2="500.55" y2="654.5" stroke="#e0e0e0" stroke-width="0.8" />
<line x1="500.55" y1="680.1" x2="500.55" y2="732.5" stroke="#e0e0e0" stroke-width="0.8" />
<line x1="556.65" y1="557.5" x2="556.65" y2="654.5" stroke="#e0e0e0" stroke-width="0.8" />
<line x1="556.65" y1="680.1" x2="556.65" y2="732.5" stroke="#e0e0e0" stroke-width="0.8" />
<line x1="612.75" y1="557.5" x2="612.75" y2="654.5" stroke="#e0e0e0" stroke-width="0.8" />
<line x1="612.75" y1="680.1" x2="612.75" y2="732.5" stroke="#e0e0e0" stroke-width="0.8" />
<line x1="528.6" y1="557.5" x2="528.6" y2="654.5" stroke="#e0e0e0" stroke-width="0.8" />
<line x1="528.6" y1="680.1" x2="528.6" y2="732.5" stroke="#e0e0e0" stroke-width="0.8" />
<line x1="584.7" y1="557.5" x2="584.7" y2="654.5" stroke="#e0e0e0" stroke-width="0.8" />
<line x1="584.7" y1="680.1" x2="584.7" y2="732.5" stroke="#e0e0e0" stroke-width="0.8" />
<line x1="472.5" y1="693.2" x2="642.5" y2="693.2" stroke="#dcdcdc" stroke-width="0.9" />
<line x1="472.5" y1="699.75" x2="642.5" y2="699.75" stroke="#ececec" stroke-width="0.6" />
<line x1="472.5" y1="706.3" x2="642.5" y2="706.3" stroke="#dcdcdc" stroke-width="0.9" />
<line x1="472.5" y1="712.85" x2="642.5" y2="712.85" stroke="#ececec" stroke-width="0.6" />
<line x1="472.5" y1="719.4" x2="642.5" y2="719.4" stroke="#dcdcdc" stroke-width="0.9" />
<line x1="472.5" y1="725.95" x2="642.5" y2="725.95" stroke="#ececec" stroke-width="0.6" />
<line x1="472.5" y1="686.65" x2="642.5" y2="686.65" stroke="#ececec" stroke-width="0.6" />
<line x1="472.5" y1="650.4" x2="642.5" y2="650.4" stroke="#6a6a6a" stroke-width="0.9" stroke-dasharray="4.6 3.2"/>
<polygon points="472.5,732.5 472.5,680.1 474.53,680.92 476.57,681.74 478.6,682.57 480.63,683.4 482.66,684.23 484.7,685.06 486.73,685.9 488.76,686.74 490.79,687.59 492.83,688.45 494.86,689.31 496.89,690.19 498.92,691.07 500.96,691.96 502.99,692.87 505.02,693.78 507.05,694.71 509.09,695.65 511.12,696.6 513.15,697.56 515.18,698.53 517.22,699.52 519.25,700.51 521.28,701.52 523.32,702.54 525.35,703.57 527.38,704.62 529.41,705.68 531.45,706.75 533.48,707.82 535.51,708.9 537.54,709.98 539.58,711.05 541.61,712.12 543.64,713.18 545.67,714.22 547.71,715.24 549.74,716.23 551.77,717.2 553.8,718.14 555.84,719.05 557.87,719.92 559.9,720.74 561.93,721.53 563.97,722.29 566,723.01 568.03,723.7 570.07,724.36 572.1,725 574.13,725.6 576.16,726.19 578.2,726.75 580.23,727.29 582.26,727.81 584.29,728.31 586.33,728.8 588.36,729.28 590.39,729.73 592.42,730.16 594.46,730.56 596.49,730.94 598.52,731.28 600.55,731.58 602.59,731.85 604.62,732.08 606.65,732.26 608.68,732.39 610.72,732.47 612.75,732.5" fill="#bebebe"/>
<rect x="472.5" y="674.7" width="4.3" height="5.4" fill="#b2182b" stroke="none" stroke-width="1" />
<rect x="476.6" y="674.7" width="18.2" height="5.4" fill="#e03c31" stroke="none" stroke-width="1" />
<rect x="494.6" y="674.7" width="22.4" height="5.4" fill="#fb6a4a" stroke="none" stroke-width="1" />
<rect x="516.8" y="674.7" width="28.6" height="5.4" fill="#fcb499" stroke="none" stroke-width="1" />
<rect x="545.2" y="674.7" width="50.3" height="5.4" fill="#fee0d2" stroke="none" stroke-width="1" />
<rect x="595.3" y="674.7" width="19.8" height="5.4" fill="#eff3ff" stroke="none" stroke-width="1" />
<rect x="614.9" y="674.7" width="9.8" height="5.4" fill="#bdd7e7" stroke="none" stroke-width="1" />
<rect x="624.5" y="674.7" width="8.7" height="5.4" fill="#6baed6" stroke="none" stroke-width="1" />
<rect x="633" y="674.7" width="9.7" height="5.4" fill="#3182bd" stroke="none" stroke-width="1" />
<line x1="478.2" y1="654.5" x2="478.2" y2="674.7" stroke="#000" stroke-width="0.62" stroke-opacity="0.95"/>
<line x1="478.2" y1="674.7" x2="478.2" y2="680.1" stroke="#000" stroke-width="0.62" stroke-opacity="0.11"/>
<line x1="479.5" y1="654.5" x2="479.5" y2="674.7" stroke="#000" stroke-width="0.62" stroke-opacity="0.95"/>
<line x1="479.5" y1="674.7" x2="479.5" y2="680.1" stroke="#000" stroke-width="0.62" stroke-opacity="0.11"/>
<line x1="480.5" y1="654.5" x2="480.5" y2="674.7" stroke="#000" stroke-width="0.62" stroke-opacity="0.95"/>
<line x1="480.5" y1="674.7" x2="480.5" y2="680.1" stroke="#000" stroke-width="0.62" stroke-opacity="0.11"/>
<line x1="481.4" y1="654.5" x2="481.4" y2="674.7" stroke="#000" stroke-width="0.62" stroke-opacity="0.95"/>
<line x1="481.4" y1="674.7" x2="481.4" y2="680.1" stroke="#000" stroke-width="0.62" stroke-opacity="0.11"/>
<line x1="482.6" y1="654.5" x2="482.6" y2="674.7" stroke="#000" stroke-width="0.62" stroke-opacity="0.95"/>
<line x1="482.6" y1="674.7" x2="482.6" y2="680.1" stroke="#000" stroke-width="0.62" stroke-opacity="0.11"/>
<line x1="483.7" y1="654.5" x2="483.7" y2="674.7" stroke="#000" stroke-width="0.62" stroke-opacity="0.95"/>
<line x1="483.7" y1="674.7" x2="483.7" y2="680.1" stroke="#000" stroke-width="0.62" stroke-opacity="0.11"/>
<line x1="485.6" y1="654.5" x2="485.6" y2="674.7" stroke="#000" stroke-width="0.62" stroke-opacity="0.95"/>
<line x1="485.6" y1="674.7" x2="485.6" y2="680.1" stroke="#000" stroke-width="0.62" stroke-opacity="0.11"/>
<line x1="486.6" y1="654.5" x2="486.6" y2="674.7" stroke="#000" stroke-width="0.62" stroke-opacity="0.95"/>
<line x1="486.6" y1="674.7" x2="486.6" y2="680.1" stroke="#000" stroke-width="0.62" stroke-opacity="0.11"/>
<line x1="487.5" y1="654.5" x2="487.5" y2="674.7" stroke="#000" stroke-width="0.62" stroke-opacity="0.95"/>
<line x1="487.5" y1="674.7" x2="487.5" y2="680.1" stroke="#000" stroke-width="0.62" stroke-opacity="0.11"/>
<line x1="488.7" y1="654.5" x2="488.7" y2="674.7" stroke="#000" stroke-width="0.62" stroke-opacity="0.95"/>
<line x1="488.7" y1="674.7" x2="488.7" y2="680.1" stroke="#000" stroke-width="0.62" stroke-opacity="0.11"/>
<line x1="491.1" y1="654.5" x2="491.1" y2="674.7" stroke="#000" stroke-width="0.62" stroke-opacity="0.95"/>
<line x1="491.1" y1="674.7" x2="491.1" y2="680.1" stroke="#000" stroke-width="0.62" stroke-opacity="0.11"/>
<line x1="492.2" y1="654.5" x2="492.2" y2="674.7" stroke="#000" stroke-width="0.62" stroke-opacity="0.95"/>
<line x1="492.2" y1="674.7" x2="492.2" y2="680.1" stroke="#000" stroke-width="0.62" stroke-opacity="0.11"/>
<line x1="493.3" y1="654.5" x2="493.3" y2="674.7" stroke="#000" stroke-width="0.62" stroke-opacity="0.95"/>
<line x1="493.3" y1="674.7" x2="493.3" y2="680.1" stroke="#000" stroke-width="0.62" stroke-opacity="0.11"/>
<line x1="495.4" y1="654.5" x2="495.4" y2="674.7" stroke="#000" stroke-width="0.62" stroke-opacity="0.95"/>
<line x1="495.4" y1="674.7" x2="495.4" y2="680.1" stroke="#000" stroke-width="0.62" stroke-opacity="0.11"/>
<line x1="496.5" y1="654.5" x2="496.5" y2="674.7" stroke="#000" stroke-width="0.62" stroke-opacity="0.95"/>
<line x1="496.5" y1="674.7" x2="496.5" y2="680.1" stroke="#000" stroke-width="0.62" stroke-opacity="0.11"/>
<line x1="497.5" y1="654.5" x2="497.5" y2="674.7" stroke="#000" stroke-width="0.62" stroke-opacity="0.95"/>
<line x1="497.5" y1="674.7" x2="497.5" y2="680.1" stroke="#000" stroke-width="0.62" stroke-opacity="0.11"/>
<line x1="498.9" y1="654.5" x2="498.9" y2="674.7" stroke="#000" stroke-width="0.62" stroke-opacity="0.95"/>
<line x1="498.9" y1="674.7" x2="498.9" y2="680.1" stroke="#000" stroke-width="0.62" stroke-opacity="0.11"/>
<line x1="500.2" y1="654.5" x2="500.2" y2="674.7" stroke="#000" stroke-width="0.62" stroke-opacity="0.95"/>
<line x1="500.2" y1="674.7" x2="500.2" y2="680.1" stroke="#000" stroke-width="0.62" stroke-opacity="0.11"/>
<line x1="501.3" y1="654.5" x2="501.3" y2="674.7" stroke="#000" stroke-width="0.62" stroke-opacity="0.95"/>
<line x1="501.3" y1="674.7" x2="501.3" y2="680.1" stroke="#000" stroke-width="0.62" stroke-opacity="0.11"/>
<line x1="502.6" y1="654.5" x2="502.6" y2="674.7" stroke="#000" stroke-width="0.62" stroke-opacity="0.95"/>
<line x1="502.6" y1="674.7" x2="502.6" y2="680.1" stroke="#000" stroke-width="0.62" stroke-opacity="0.11"/>
<line x1="503.9" y1="654.5" x2="503.9" y2="674.7" stroke="#000" stroke-width="0.62" stroke-opacity="0.95"/>
<line x1="503.9" y1="674.7" x2="503.9" y2="680.1" stroke="#000" stroke-width="0.62" stroke-opacity="0.11"/>
<line x1="473.4" y1="654.5" x2="473.4" y2="674.7" stroke="#000" stroke-width="1.4" stroke-opacity="0.9"/>
<line x1="473.4" y1="674.7" x2="473.4" y2="680.1" stroke="#000" stroke-width="1.4" stroke-opacity="0.11"/>
<line x1="489.8" y1="654.5" x2="489.8" y2="674.7" stroke="#000" stroke-width="1.2" stroke-opacity="0.9"/>
<line x1="489.8" y1="674.7" x2="489.8" y2="680.1" stroke="#000" stroke-width="1.2" stroke-opacity="0.11"/>
<line x1="505.5" y1="654.5" x2="505.5" y2="674.7" stroke="#000" stroke-width="1.6" stroke-opacity="0.9"/>
<line x1="505.5" y1="674.7" x2="505.5" y2="680.1" stroke="#000" stroke-width="1.6" stroke-opacity="0.11"/>
<line x1="513.6" y1="654.5" x2="513.6" y2="674.7" stroke="#000" stroke-width="0.8" stroke-opacity="0.75"/>
<line x1="513.6" y1="674.7" x2="513.6" y2="680.1" stroke="#000" stroke-width="0.8" stroke-opacity="0.09"/>
<line x1="519.8" y1="654.5" x2="519.8" y2="674.7" stroke="#000" stroke-width="1.4" stroke-opacity="0.8"/>
<line x1="519.8" y1="674.7" x2="519.8" y2="680.1" stroke="#000" stroke-width="1.4" stroke-opacity="0.1"/>
<line x1="542.8" y1="654.5" x2="542.8" y2="674.7" stroke="#000" stroke-width="0.9" stroke-opacity="0.5"/>
<line x1="542.8" y1="674.7" x2="542.8" y2="680.1" stroke="#000" stroke-width="0.9" stroke-opacity="0.06"/>
<line x1="547.6" y1="654.5" x2="547.6" y2="674.7" stroke="#000" stroke-width="0.8" stroke-opacity="0.7"/>
<line x1="547.6" y1="674.7" x2="547.6" y2="680.1" stroke="#000" stroke-width="0.8" stroke-opacity="0.08"/>
<line x1="561.1" y1="654.5" x2="561.1" y2="674.7" stroke="#000" stroke-width="1.4" stroke-opacity="0.55"/>
<line x1="561.1" y1="674.7" x2="561.1" y2="680.1" stroke="#000" stroke-width="1.4" stroke-opacity="0.07"/>
<line x1="569.4" y1="654.5" x2="569.4" y2="674.7" stroke="#000" stroke-width="0.9" stroke-opacity="0.85"/>
<line x1="569.4" y1="674.7" x2="569.4" y2="680.1" stroke="#000" stroke-width="0.9" stroke-opacity="0.1"/>
<line x1="573.9" y1="654.5" x2="573.9" y2="674.7" stroke="#000" stroke-width="1.4" stroke-opacity="0.85"/>
<line x1="573.9" y1="674.7" x2="573.9" y2="680.1" stroke="#000" stroke-width="1.4" stroke-opacity="0.1"/>
<line x1="580.7" y1="654.5" x2="580.7" y2="674.7" stroke="#000" stroke-width="0.9" stroke-opacity="0.4"/>
<line x1="580.7" y1="674.7" x2="580.7" y2="680.1" stroke="#000" stroke-width="0.9" stroke-opacity="0.05"/>
<line x1="596.4" y1="654.5" x2="596.4" y2="674.7" stroke="#000" stroke-width="2.2" stroke-opacity="0.6"/>
<line x1="596.4" y1="674.7" x2="596.4" y2="680.1" stroke="#000" stroke-width="2.2" stroke-opacity="0.07"/>
<line x1="602.5" y1="654.5" x2="602.5" y2="674.7" stroke="#000" stroke-width="0.9" stroke-opacity="0.55"/>
<line x1="602.5" y1="674.7" x2="602.5" y2="680.1" stroke="#000" stroke-width="0.9" stroke-opacity="0.07"/>
<line x1="608" y1="654.5" x2="608" y2="674.7" stroke="#000" stroke-width="0.9" stroke-opacity="0.85"/>
<line x1="608" y1="674.7" x2="608" y2="680.1" stroke="#000" stroke-width="0.9" stroke-opacity="0.1"/>
<line x1="610" y1="654.5" x2="610" y2="674.7" stroke="#000" stroke-width="0.9" stroke-opacity="0.85"/>
<line x1="610" y1="674.7" x2="610" y2="680.1" stroke="#000" stroke-width="0.9" stroke-opacity="0.1"/>
<line x1="620.5" y1="654.5" x2="620.5" y2="674.7" stroke="#000" stroke-width="2" stroke-opacity="0.6"/>
<line x1="620.5" y1="674.7" x2="620.5" y2="680.1" stroke="#000" stroke-width="2" stroke-opacity="0.07"/>
<line x1="630.9" y1="654.5" x2="630.9" y2="674.7" stroke="#000" stroke-width="0.9" stroke-opacity="0.5"/>
<line x1="630.9" y1="674.7" x2="630.9" y2="680.1" stroke="#000" stroke-width="0.9" stroke-opacity="0.06"/>
<line x1="633.3" y1="654.5" x2="633.3" y2="674.7" stroke="#000" stroke-width="0.9" stroke-opacity="0.5"/>
<line x1="633.3" y1="674.7" x2="633.3" y2="680.1" stroke="#000" stroke-width="0.9" stroke-opacity="0.06"/>
<line x1="637.3" y1="654.5" x2="637.3" y2="674.7" stroke="#000" stroke-width="0.9" stroke-opacity="0.5"/>
<line x1="637.3" y1="674.7" x2="637.3" y2="680.1" stroke="#000" stroke-width="0.9" stroke-opacity="0.06"/>
<line x1="641.4" y1="654.5" x2="641.4" y2="674.7" stroke="#000" stroke-width="1" stroke-opacity="0.7"/>
<line x1="641.4" y1="674.7" x2="641.4" y2="680.1" stroke="#000" stroke-width="1" stroke-opacity="0.08"/>
<polyline points="473.3,640.7 473.4,630.2 477.7,634.1 478.4,629.7 479.3,630.6 479.6,626 480.3,626.6 480.8,621.5 481.7,622.3 482.6,613.6 483.8,615.3 485,610.4 486.4,612.2 487.7,604.3 488.5,605.2 489.6,597.8 490.3,598.8 491.2,593.4 491.9,594.3 492.9,586.4 494.7,588.2 495.4,583 496.2,583.9 496.9,577.7 498.2,578.9 499.2,574.7 500.4,575.9 501.3,572.1 502.7,573.3 503.4,570.7 504.3,571.9 505.4,566.8 505.8,567.3 506.6,562.2 513.2,568 514.1,564.9 519.2,569.4 520.9,564.5 542.1,581.7 543.4,580.6 546.9,583.4 548.1,582.6 560.7,593.1 562.2,591.9 568.9,597.3 570.1,596.2 573.3,599 574.5,597.8 580.7,603 594.3,612.7 596.4,614 608,622.6 620.5,632.6 642.3,650" fill="none" stroke="#36a6c9" stroke-width="1.1" stroke-linejoin="round"/>
<rect x="472.5" y="557.5" width="170" height="175" fill="none" stroke="#222" stroke-width="1.1" />
<line x1="472.5" y1="654.5" x2="642.5" y2="654.5" stroke="#444" stroke-width="1" />
<line x1="472.5" y1="680.1" x2="642.5" y2="680.1" stroke="#111" stroke-width="1" />
<line x1="468.9" y1="568.4" x2="472.5" y2="568.4" stroke="#222" stroke-width="0.9" />
<text x="466.2" y="571.05" font-size="7.35" text-anchor="end" font-family="'Liberation Sans', sans-serif" fill="#1a1a1a"  stroke="#1a1a1a" stroke-width="0.13">0.6</text>
<line x1="468.9" y1="595.7" x2="472.5" y2="595.7" stroke="#222" stroke-width="0.9" />
<text x="466.2" y="598.35" font-size="7.35" text-anchor="end" font-family="'Liberation Sans', sans-serif" fill="#1a1a1a"  stroke="#1a1a1a" stroke-width="0.13">0.4</text>
<line x1="468.9" y1="622.9" x2="472.5" y2="622.9" stroke="#222" stroke-width="0.9" />
<text x="466.2" y="625.55" font-size="7.35" text-anchor="end" font-family="'Liberation Sans', sans-serif" fill="#1a1a1a"  stroke="#1a1a1a" stroke-width="0.13">0.2</text>
<line x1="468.9" y1="650.4" x2="472.5" y2="650.4" stroke="#222" stroke-width="0.9" />
<text x="466.2" y="653.05" font-size="7.35" text-anchor="end" font-family="'Liberation Sans', sans-serif" fill="#1a1a1a"  stroke="#1a1a1a" stroke-width="0.13">0.0</text>
<line x1="468.9" y1="693.2" x2="472.5" y2="693.2" stroke="#222" stroke-width="0.9" />
<text x="466" y="696.34" font-size="8.72" text-anchor="end" font-family="'Liberation Sans', sans-serif" fill="#1a1a1a"  stroke="#1a1a1a" stroke-width="0.13">0.75</text>
<line x1="468.9" y1="706.3" x2="472.5" y2="706.3" stroke="#222" stroke-width="0.9" />
<text x="466" y="709.44" font-size="8.72" text-anchor="end" font-family="'Liberation Sans', sans-serif" fill="#1a1a1a"  stroke="#1a1a1a" stroke-width="0.13">0.50</text>
<line x1="468.9" y1="719.4" x2="472.5" y2="719.4" stroke="#222" stroke-width="0.9" />
<text x="466" y="722.54" font-size="8.72" text-anchor="end" font-family="'Liberation Sans', sans-serif" fill="#1a1a1a"  stroke="#1a1a1a" stroke-width="0.13">0.25</text>
<line x1="468.9" y1="732.5" x2="472.5" y2="732.5" stroke="#222" stroke-width="0.9" />
<text x="466" y="735.64" font-size="8.72" text-anchor="end" font-family="'Liberation Sans', sans-serif" fill="#1a1a1a"  stroke="#1a1a1a" stroke-width="0.13">0.00</text>
<line x1="472.5" y1="732.5" x2="472.5" y2="736" stroke="#222" stroke-width="0.9" />
<line x1="528.6" y1="732.5" x2="528.6" y2="736" stroke="#222" stroke-width="0.9" />
<line x1="584.7" y1="732.5" x2="584.7" y2="736" stroke="#222" stroke-width="0.9" />
<line x1="640.8" y1="732.5" x2="640.8" y2="736" stroke="#222" stroke-width="0.9" />
<g clip-path="url(#clipF)">
<text x="472.5" y="745.39" font-size="8.72" text-anchor="middle" font-family="'Liberation Sans', sans-serif" fill="#1a1a1a"  stroke="#1a1a1a" stroke-width="0.13">0</text>
<text x="528.6" y="745.39" font-size="8.72" text-anchor="middle" font-family="'Liberation Sans', sans-serif" fill="#1a1a1a"  stroke="#1a1a1a" stroke-width="0.13">10000</text>
<text x="584.7" y="745.39" font-size="8.72" text-anchor="middle" font-family="'Liberation Sans', sans-serif" fill="#1a1a1a"  stroke="#1a1a1a" stroke-width="0.13">20000</text>
<text x="640.8" y="745.39" font-size="8.72" text-anchor="middle" font-family="'Liberation Sans', sans-serif" fill="#1a1a1a"  stroke="#1a1a1a" stroke-width="0.13">30000</text>
</g>
<text x="557.5" y="756.72" font-size="8.72" text-anchor="middle" font-family="'Liberation Sans', sans-serif" fill="#1a1a1a"  stroke="#1a1a1a" stroke-width="0.13">Rank in Ordered Dataset</text>
<text transform="translate(450.14,606.5) rotate(-90)" font-size="8.72" text-anchor="middle" font-family="'Liberation Sans', sans-serif" fill="#1a1a1a" stroke="#1a1a1a" stroke-width="0.2">Enrichment Score</text>
<text transform="translate(443.74,707) rotate(-90)" font-size="8.72" text-anchor="middle" font-family="'Liberation Sans', sans-serif" fill="#1a1a1a" stroke="#1a1a1a" stroke-width="0.2">Ranked list metric</text>
<text x="557.5" y="554.52" font-size="8.72" text-anchor="middle" font-family="'Liberation Sans', sans-serif" fill="#1a1a1a"  stroke="#1a1a1a" stroke-width="0.13">[PID] Cd8 Tcr Downstream Pathway</text>
<rect x="593.2" y="560.8" width="46.5" height="27.1" fill="#fff" stroke="none" stroke-width="1" />
<text x="638.7" y="568.08" font-size="7.45" text-anchor="end" font-family="'Liberation Sans', sans-serif" fill="#1a1a1a"  stroke="#1a1a1a" stroke-width="0.1"><tspan font-style="italic">NES</tspan> = 1.444</text>
<text x="638.7" y="576.88" font-size="7.45" text-anchor="end" font-family="'Liberation Sans', sans-serif" fill="#1a1a1a"  stroke="#1a1a1a" stroke-width="0.1"><tspan font-style="italic">P.adj</tspan> = 0.025</text>
<text x="638.7" y="585.78" font-size="7.45" text-anchor="end" font-family="'Liberation Sans', sans-serif" fill="#1a1a1a"  stroke="#1a1a1a" stroke-width="0.1"><tspan font-style="italic">FDR</tspan> = 0.023</text>
<text transform="translate(380.3,554.2) scale(0.95,1)" font-size="31" font-family="'Liberation Serif', serif" fill="#000">F</text>
<rect x="116.5" y="792.2" width="169.8" height="174.2" fill="#fff" stroke="none" stroke-width="1" />
<line x1="116.5" y1="821.5" x2="286.3" y2="821.5" stroke="#ececec" stroke-width="0.6" />
<line x1="116.5" y1="846.7" x2="286.3" y2="846.7" stroke="#ececec" stroke-width="0.6" />
<line x1="116.5" y1="871.9" x2="286.3" y2="871.9" stroke="#ececec" stroke-width="0.6" />
<line x1="116.5" y1="796.3" x2="286.3" y2="796.3" stroke="#ececec" stroke-width="0.6" />
<line x1="116.5" y1="808.9" x2="286.3" y2="808.9" stroke="#dcdcdc" stroke-width="1" />
<line x1="116.5" y1="834.1" x2="286.3" y2="834.1" stroke="#dcdcdc" stroke-width="1" />
<line x1="116.5" y1="859.3" x2="286.3" y2="859.3" stroke="#dcdcdc" stroke-width="1" />
<line x1="116.5" y1="884.4" x2="286.3" y2="884.4" stroke="#dcdcdc" stroke-width="1" />
<line x1="144.51" y1="792.2" x2="144.51" y2="888.6" stroke="#e0e0e0" stroke-width="0.8" />
<line x1="144.51" y1="914.5" x2="144.51" y2="966.4" stroke="#e0e0e0" stroke-width="0.8" />
<line x1="200.55" y1="792.2" x2="200.55" y2="888.6" stroke="#e0e0e0" stroke-width="0.8" />
<line x1="200.55" y1="914.5" x2="200.55" y2="966.4" stroke="#e0e0e0" stroke-width="0.8" />
<line x1="256.58" y1="792.2" x2="256.58" y2="888.6" stroke="#e0e0e0" stroke-width="0.8" />
<line x1="256.58" y1="914.5" x2="256.58" y2="966.4" stroke="#e0e0e0" stroke-width="0.8" />
<line x1="172.53" y1="792.2" x2="172.53" y2="888.6" stroke="#e0e0e0" stroke-width="0.8" />
<line x1="172.53" y1="914.5" x2="172.53" y2="966.4" stroke="#e0e0e0" stroke-width="0.8" />
<line x1="228.56" y1="792.2" x2="228.56" y2="888.6" stroke="#e0e0e0" stroke-width="0.8" />
<line x1="228.56" y1="914.5" x2="228.56" y2="966.4" stroke="#e0e0e0" stroke-width="0.8" />
<line x1="116.5" y1="927.5" x2="286.3" y2="927.5" stroke="#dcdcdc" stroke-width="0.9" />
<line x1="116.5" y1="934" x2="286.3" y2="934" stroke="#ececec" stroke-width="0.6" />
<line x1="116.5" y1="940.5" x2="286.3" y2="940.5" stroke="#dcdcdc" stroke-width="0.9" />
<line x1="116.5" y1="947" x2="286.3" y2="947" stroke="#ececec" stroke-width="0.6" />
<line x1="116.5" y1="953.4" x2="286.3" y2="953.4" stroke="#dcdcdc" stroke-width="0.9" />
<line x1="116.5" y1="959.9" x2="286.3" y2="959.9" stroke="#ececec" stroke-width="0.6" />
<line x1="116.5" y1="921" x2="286.3" y2="921" stroke="#ececec" stroke-width="0.6" />
<line x1="116.5" y1="884.4" x2="286.3" y2="884.4" stroke="#6a6a6a" stroke-width="0.9" stroke-dasharray="4.6 3.2"/>
<polygon points="116.5,966.4 116.5,914.53 118.53,915.35 120.56,916.16 122.59,916.98 124.62,917.8 126.65,918.62 128.68,919.44 130.71,920.27 132.74,921.11 134.77,921.95 136.8,922.8 138.83,923.65 140.86,924.52 142.89,925.39 144.92,926.28 146.95,927.17 148.98,928.08 151.01,929 153.04,929.92 155.07,930.86 157.1,931.81 159.13,932.78 161.16,933.75 163.19,934.74 165.22,935.74 167.25,936.75 169.28,937.77 171.31,938.8 173.34,939.85 175.37,940.91 177.4,941.97 179.43,943.04 181.46,944.11 183.49,945.17 185.52,946.23 187.55,947.27 189.58,948.3 191.61,949.31 193.64,950.3 195.67,951.26 197.7,952.19 199.73,953.09 201.76,953.94 203.79,954.76 205.82,955.54 207.85,956.29 209.88,957.01 211.91,957.69 213.94,958.35 215.97,958.97 218,959.57 220.03,960.15 222.06,960.7 224.09,961.24 226.12,961.76 228.15,962.26 230.18,962.74 232.21,963.21 234.24,963.66 236.27,964.08 238.3,964.48 240.33,964.85 242.36,965.19 244.39,965.49 246.42,965.76 248.45,965.98 250.48,966.16 252.51,966.29 254.54,966.37 256.58,966.4" fill="#bebebe"/>
<rect x="116.5" y="908.9" width="4.7" height="5.6" fill="#b2182b" stroke="none" stroke-width="1" />
<rect x="121" y="908.9" width="27.9" height="5.6" fill="#e03c31" stroke="none" stroke-width="1" />
<rect x="148.7" y="908.9" width="12.3" height="5.6" fill="#fb6a4a" stroke="none" stroke-width="1" />
<rect x="160.8" y="908.9" width="34.4" height="5.6" fill="#fcb499" stroke="none" stroke-width="1" />
<rect x="195" y="908.9" width="59.3" height="5.6" fill="#fee0d2" stroke="none" stroke-width="1" />
<rect x="254.1" y="908.9" width="10.1" height="5.6" fill="#eff3ff" stroke="none" stroke-width="1" />
<rect x="264" y="908.9" width="7.4" height="5.6" fill="#bdd7e7" stroke="none" stroke-width="1" />
<rect x="271.2" y="908.9" width="15.3" height="5.6" fill="#3182bd" stroke="none" stroke-width="1" />
<line x1="123.7" y1="888.6" x2="123.7" y2="908.9" stroke="#000" stroke-width="0.8" stroke-opacity="0.9"/>
<line x1="123.7" y1="908.9" x2="123.7" y2="914.5" stroke="#000" stroke-width="0.8" stroke-opacity="0.11"/>
<line x1="125" y1="888.6" x2="125" y2="908.9" stroke="#000" stroke-width="0.8" stroke-opacity="0.9"/>
<line x1="125" y1="908.9" x2="125" y2="914.5" stroke="#000" stroke-width="0.8" stroke-opacity="0.11"/>
<line x1="126.6" y1="888.6" x2="126.6" y2="908.9" stroke="#000" stroke-width="0.8" stroke-opacity="0.9"/>
<line x1="126.6" y1="908.9" x2="126.6" y2="914.5" stroke="#000" stroke-width="0.8" stroke-opacity="0.11"/>
<line x1="127.7" y1="888.6" x2="127.7" y2="908.9" stroke="#000" stroke-width="0.8" stroke-opacity="0.9"/>
<line x1="127.7" y1="908.9" x2="127.7" y2="914.5" stroke="#000" stroke-width="0.8" stroke-opacity="0.11"/>
<line x1="131.7" y1="888.6" x2="131.7" y2="908.9" stroke="#000" stroke-width="0.8" stroke-opacity="0.9"/>
<line x1="131.7" y1="908.9" x2="131.7" y2="914.5" stroke="#000" stroke-width="0.8" stroke-opacity="0.11"/>
<line x1="133" y1="888.6" x2="133" y2="908.9" stroke="#000" stroke-width="0.8" stroke-opacity="0.9"/>
<line x1="133" y1="908.9" x2="133" y2="914.5" stroke="#000" stroke-width="0.8" stroke-opacity="0.11"/>
<line x1="136.2" y1="888.6" x2="136.2" y2="908.9" stroke="#000" stroke-width="0.8" stroke-opacity="0.9"/>
<line x1="136.2" y1="908.9" x2="136.2" y2="914.5" stroke="#000" stroke-width="0.8" stroke-opacity="0.11"/>
<line x1="137.8" y1="888.6" x2="137.8" y2="908.9" stroke="#000" stroke-width="0.8" stroke-opacity="0.9"/>
<line x1="137.8" y1="908.9" x2="137.8" y2="914.5" stroke="#000" stroke-width="0.8" stroke-opacity="0.11"/>
<line x1="139.1" y1="888.6" x2="139.1" y2="908.9" stroke="#000" stroke-width="0.8" stroke-opacity="0.9"/>
<line x1="139.1" y1="908.9" x2="139.1" y2="914.5" stroke="#000" stroke-width="0.8" stroke-opacity="0.11"/>
<line x1="140.2" y1="888.6" x2="140.2" y2="908.9" stroke="#000" stroke-width="0.8" stroke-opacity="0.9"/>
<line x1="140.2" y1="908.9" x2="140.2" y2="914.5" stroke="#000" stroke-width="0.8" stroke-opacity="0.11"/>
<line x1="130.6" y1="888.6" x2="130.6" y2="908.9" stroke="#000" stroke-width="1.6" stroke-opacity="0.95"/>
<line x1="130.6" y1="908.9" x2="130.6" y2="914.5" stroke="#000" stroke-width="1.6" stroke-opacity="0.11"/>
<line x1="144.2" y1="888.6" x2="144.2" y2="908.9" stroke="#000" stroke-width="0.8" stroke-opacity="0.6"/>
<line x1="144.2" y1="908.9" x2="144.2" y2="914.5" stroke="#000" stroke-width="0.8" stroke-opacity="0.07"/>
<line x1="148.7" y1="888.6" x2="148.7" y2="908.9" stroke="#000" stroke-width="0.9" stroke-opacity="0.9"/>
<line x1="148.7" y1="908.9" x2="148.7" y2="914.5" stroke="#000" stroke-width="0.9" stroke-opacity="0.11"/>
<line x1="157.9" y1="888.6" x2="157.9" y2="908.9" stroke="#000" stroke-width="0.9" stroke-opacity="0.9"/>
<line x1="157.9" y1="908.9" x2="157.9" y2="914.5" stroke="#000" stroke-width="0.9" stroke-opacity="0.11"/>
<line x1="201.1" y1="888.6" x2="201.1" y2="908.9" stroke="#000" stroke-width="0.9" stroke-opacity="0.55"/>
<line x1="201.1" y1="908.9" x2="201.1" y2="914.5" stroke="#000" stroke-width="0.9" stroke-opacity="0.07"/>
<line x1="207.2" y1="888.6" x2="207.2" y2="908.9" stroke="#000" stroke-width="0.9" stroke-opacity="0.85"/>
<line x1="207.2" y1="908.9" x2="207.2" y2="914.5" stroke="#000" stroke-width="0.9" stroke-opacity="0.1"/>
<line x1="219.2" y1="888.6" x2="219.2" y2="908.9" stroke="#000" stroke-width="1.8" stroke-opacity="0.5"/>
<line x1="219.2" y1="908.9" x2="219.2" y2="914.5" stroke="#000" stroke-width="1.8" stroke-opacity="0.06"/>
<line x1="236.7" y1="888.6" x2="236.7" y2="908.9" stroke="#000" stroke-width="1" stroke-opacity="0.55"/>
<line x1="236.7" y1="908.9" x2="236.7" y2="914.5" stroke="#000" stroke-width="1" stroke-opacity="0.07"/>
<line x1="241.2" y1="888.6" x2="241.2" y2="908.9" stroke="#000" stroke-width="0.8" stroke-opacity="0.85"/>
<line x1="241.2" y1="908.9" x2="241.2" y2="914.5" stroke="#000" stroke-width="0.8" stroke-opacity="0.1"/>
<line x1="246.5" y1="888.6" x2="246.5" y2="908.9" stroke="#000" stroke-width="0.9" stroke-opacity="0.5"/>
<line x1="246.5" y1="908.9" x2="246.5" y2="914.5" stroke="#000" stroke-width="0.9" stroke-opacity="0.06"/>
<line x1="249.2" y1="888.6" x2="249.2" y2="908.9" stroke="#000" stroke-width="0.8" stroke-opacity="0.85"/>
<line x1="249.2" y1="908.9" x2="249.2" y2="914.5" stroke="#000" stroke-width="0.8" stroke-opacity="0.1"/>
<line x1="254.4" y1="888.6" x2="254.4" y2="908.9" stroke="#000" stroke-width="0.9" stroke-opacity="0.85"/>
<line x1="254.4" y1="908.9" x2="254.4" y2="914.5" stroke="#000" stroke-width="0.9" stroke-opacity="0.1"/>
<line x1="274.9" y1="888.6" x2="274.9" y2="908.9" stroke="#000" stroke-width="1.4" stroke-opacity="0.8"/>
<line x1="274.9" y1="908.9" x2="274.9" y2="914.5" stroke="#000" stroke-width="1.4" stroke-opacity="0.1"/>
<line x1="281.4" y1="888.6" x2="281.4" y2="908.9" stroke="#000" stroke-width="0.9" stroke-opacity="0.55"/>
<line x1="281.4" y1="908.9" x2="281.4" y2="914.5" stroke="#000" stroke-width="0.9" stroke-opacity="0.07"/>
<line x1="285.3" y1="888.6" x2="285.3" y2="908.9" stroke="#000" stroke-width="0.9" stroke-opacity="0.6"/>
<line x1="285.3" y1="908.9" x2="285.3" y2="914.5" stroke="#000" stroke-width="0.9" stroke-opacity="0.07"/>
<polyline points="116.8,876.9 123.8,882.5 124.8,875.1 125.2,875.9 125.9,862.3 126.6,863.2 127.7,849.7 130.1,851.8 130.8,845.3 131.3,826.4 132,826.9 132.9,820.5 136.1,823.1 136.9,817 138.2,818.2 139,812 139.7,812.6 140.8,801.5 143.9,804.2 144.8,798 148.3,801.9 149.2,796.3 157.4,802.9 158.3,798 201,829.9 201.9,828.7 206.6,832.2 207.7,830.1 217.7,836.9 220.3,836.6 236.7,848.5 254.4,861 286,883.9" fill="none" stroke="#36a6c9" stroke-width="1.1" stroke-linejoin="round"/>
<rect x="116.5" y="792.2" width="169.8" height="174.2" fill="none" stroke="#222" stroke-width="1.1" />
<line x1="116.5" y1="888.6" x2="286.3" y2="888.6" stroke="#444" stroke-width="1" />
<line x1="116.5" y1="914.5" x2="286.3" y2="914.5" stroke="#111" stroke-width="1" />
<line x1="112.9" y1="808.9" x2="116.5" y2="808.9" stroke="#222" stroke-width="0.9" />
<text x="110.2" y="811.55" font-size="7.35" text-anchor="end" font-family="'Liberation Sans', sans-serif" fill="#1a1a1a"  stroke="#1a1a1a" stroke-width="0.13">0.6</text>
<line x1="112.9" y1="834.1" x2="116.5" y2="834.1" stroke="#222" stroke-width="0.9" />
<text x="110.2" y="836.75" font-size="7.35" text-anchor="end" font-family="'Liberation Sans', sans-serif" fill="#1a1a1a"  stroke="#1a1a1a" stroke-width="0.13">0.4</text>
<line x1="112.9" y1="859.3" x2="116.5" y2="859.3" stroke="#222" stroke-width="0.9" />
<text x="110.2" y="861.95" font-size="7.35" text-anchor="end" font-family="'Liberation Sans', sans-serif" fill="#1a1a1a"  stroke="#1a1a1a" stroke-width="0.13">0.2</text>
<line x1="112.9" y1="884.4" x2="116.5" y2="884.4" stroke="#222" stroke-width="0.9" />
<text x="110.2" y="887.05" font-size="7.35" text-anchor="end" font-family="'Liberation Sans', sans-serif" fill="#1a1a1a"  stroke="#1a1a1a" stroke-width="0.13">0.0</text>
<line x1="112.9" y1="927.5" x2="116.5" y2="927.5" stroke="#222" stroke-width="0.9" />
<text x="110" y="930.64" font-size="8.72" text-anchor="end" font-family="'Liberation Sans', sans-serif" fill="#1a1a1a"  stroke="#1a1a1a" stroke-width="0.13">0.75</text>
<line x1="112.9" y1="940.5" x2="116.5" y2="940.5" stroke="#222" stroke-width="0.9" />
<text x="110" y="943.64" font-size="8.72" text-anchor="end" font-family="'Liberation Sans', sans-serif" fill="#1a1a1a"  stroke="#1a1a1a" stroke-width="0.13">0.50</text>
<line x1="112.9" y1="953.4" x2="116.5" y2="953.4" stroke="#222" stroke-width="0.9" />
<text x="110" y="956.54" font-size="8.72" text-anchor="end" font-family="'Liberation Sans', sans-serif" fill="#1a1a1a"  stroke="#1a1a1a" stroke-width="0.13">0.25</text>
<line x1="112.9" y1="966.4" x2="116.5" y2="966.4" stroke="#222" stroke-width="0.9" />
<text x="110" y="969.54" font-size="8.72" text-anchor="end" font-family="'Liberation Sans', sans-serif" fill="#1a1a1a"  stroke="#1a1a1a" stroke-width="0.13">0.00</text>
<line x1="116.5" y1="966.4" x2="116.5" y2="969.9" stroke="#222" stroke-width="0.9" />
<line x1="172.53" y1="966.4" x2="172.53" y2="969.9" stroke="#222" stroke-width="0.9" />
<line x1="228.56" y1="966.4" x2="228.56" y2="969.9" stroke="#222" stroke-width="0.9" />
<line x1="284.59" y1="966.4" x2="284.59" y2="969.9" stroke="#222" stroke-width="0.9" />
<g clip-path="url(#clipG)">
<text x="116.5" y="979.34" font-size="8.72" text-anchor="middle" font-family="'Liberation Sans', sans-serif" fill="#1a1a1a"  stroke="#1a1a1a" stroke-width="0.13">0</text>
<text x="172.53" y="979.34" font-size="8.72" text-anchor="middle" font-family="'Liberation Sans', sans-serif" fill="#1a1a1a"  stroke="#1a1a1a" stroke-width="0.13">10000</text>
<text x="228.56" y="979.34" font-size="8.72" text-anchor="middle" font-family="'Liberation Sans', sans-serif" fill="#1a1a1a"  stroke="#1a1a1a" stroke-width="0.13">20000</text>
<text x="284.59" y="979.34" font-size="8.72" text-anchor="middle" font-family="'Liberation Sans', sans-serif" fill="#1a1a1a"  stroke="#1a1a1a" stroke-width="0.13">30000</text>
</g>
<text x="201.4" y="990.32" font-size="8.72" text-anchor="middle" font-family="'Liberation Sans', sans-serif" fill="#1a1a1a"  stroke="#1a1a1a" stroke-width="0.13">Rank in Ordered Dataset</text>
<text transform="translate(94.14,840.9) rotate(-90)" font-size="8.72" text-anchor="middle" font-family="'Liberation Sans', sans-serif" fill="#1a1a1a" stroke="#1a1a1a" stroke-width="0.2">Enrichment Score</text>
<text transform="translate(87.74,940) rotate(-90)" font-size="8.72" text-anchor="middle" font-family="'Liberation Sans', sans-serif" fill="#1a1a1a" stroke="#1a1a1a" stroke-width="0.2">Ranked list metric</text>
<text x="201.4" y="788.42" font-size="8.72" text-anchor="middle" font-family="'Liberation Sans', sans-serif" fill="#1a1a1a"  stroke="#1a1a1a" stroke-width="0.13">[BioCarta] BCR Pathway</text>
<rect x="237" y="794.7" width="46.5" height="27.4" fill="#fff" stroke="none" stroke-width="1" />
<text x="282.5" y="801.98" font-size="7.45" text-anchor="end" font-family="'Liberation Sans', sans-serif" fill="#1a1a1a"  stroke="#1a1a1a" stroke-width="0.1"><tspan font-style="italic">NES</tspan> = 1.514</text>
<text x="282.5" y="810.88" font-size="7.45" text-anchor="end" font-family="'Liberation Sans', sans-serif" fill="#1a1a1a"  stroke="#1a1a1a" stroke-width="0.1"><tspan font-style="italic">P.adj</tspan> = 0.035</text>
<text x="282.5" y="819.98" font-size="7.45" text-anchor="end" font-family="'Liberation Sans', sans-serif" fill="#1a1a1a"  stroke="#1a1a1a" stroke-width="0.1"><tspan font-style="italic">FDR</tspan> = 0.032</text>
<text transform="translate(19.8,788.2) scale(0.94,1)" font-size="32.3" font-family="'Liberation Serif', serif" fill="#000">G</text>
<rect x="472.5" y="802.1" width="170" height="164.3" fill="#fff" stroke="none" stroke-width="1" />
<line x1="472.5" y1="816.85" x2="642.5" y2="816.85" stroke="#ececec" stroke-width="0.6" />
<line x1="472.5" y1="845.75" x2="642.5" y2="845.75" stroke="#ececec" stroke-width="0.6" />
<line x1="472.5" y1="874.65" x2="642.5" y2="874.65" stroke="#ececec" stroke-width="0.6" />
<line x1="472.5" y1="831.3" x2="642.5" y2="831.3" stroke="#dcdcdc" stroke-width="1" />
<line x1="472.5" y1="860.2" x2="642.5" y2="860.2" stroke="#dcdcdc" stroke-width="1" />
<line x1="472.5" y1="889.1" x2="642.5" y2="889.1" stroke="#dcdcdc" stroke-width="1" />
<line x1="500.55" y1="802.1" x2="500.55" y2="893" stroke="#e0e0e0" stroke-width="0.8" />
<line x1="500.55" y1="917.7" x2="500.55" y2="966.4" stroke="#e0e0e0" stroke-width="0.8" />
<line x1="556.65" y1="802.1" x2="556.65" y2="893" stroke="#e0e0e0" stroke-width="0.8" />
<line x1="556.65" y1="917.7" x2="556.65" y2="966.4" stroke="#e0e0e0" stroke-width="0.8" />
<line x1="612.75" y1="802.1" x2="612.75" y2="893" stroke="#e0e0e0" stroke-width="0.8" />
<line x1="612.75" y1="917.7" x2="612.75" y2="966.4" stroke="#e0e0e0" stroke-width="0.8" />
<line x1="528.6" y1="802.1" x2="528.6" y2="893" stroke="#e0e0e0" stroke-width="0.8" />
<line x1="528.6" y1="917.7" x2="528.6" y2="966.4" stroke="#e0e0e0" stroke-width="0.8" />
<line x1="584.7" y1="802.1" x2="584.7" y2="893" stroke="#e0e0e0" stroke-width="0.8" />
<line x1="584.7" y1="917.7" x2="584.7" y2="966.4" stroke="#e0e0e0" stroke-width="0.8" />
<line x1="472.5" y1="930.6" x2="642.5" y2="930.6" stroke="#dcdcdc" stroke-width="0.9" />
<line x1="472.5" y1="936.45" x2="642.5" y2="936.45" stroke="#ececec" stroke-width="0.6" />
<line x1="472.5" y1="942.3" x2="642.5" y2="942.3" stroke="#dcdcdc" stroke-width="0.9" />
<line x1="472.5" y1="948.15" x2="642.5" y2="948.15" stroke="#ececec" stroke-width="0.6" />
<line x1="472.5" y1="954.4" x2="642.5" y2="954.4" stroke="#dcdcdc" stroke-width="0.9" />
<line x1="472.5" y1="960.25" x2="642.5" y2="960.25" stroke="#ececec" stroke-width="0.6" />
<line x1="472.5" y1="924.75" x2="642.5" y2="924.75" stroke="#ececec" stroke-width="0.6" />
<line x1="472.5" y1="889.1" x2="642.5" y2="889.1" stroke="#6a6a6a" stroke-width="0.9" stroke-dasharray="4.6 3.2"/>
<polygon points="472.5,966.4 472.5,918.67 474.53,919.42 476.57,920.16 478.6,920.92 480.63,921.67 482.66,922.42 484.7,923.18 486.73,923.95 488.76,924.72 490.79,925.49 492.83,926.27 494.86,927.06 496.89,927.86 498.92,928.66 500.96,929.47 502.99,930.3 505.02,931.13 507.05,931.98 509.09,932.83 511.12,933.7 513.15,934.57 515.18,935.46 517.22,936.35 519.25,937.26 521.28,938.18 523.32,939.11 525.35,940.05 527.38,941 529.41,941.97 531.45,942.94 533.48,943.92 535.51,944.9 537.54,945.89 539.58,946.86 541.61,947.84 543.64,948.8 545.67,949.75 547.71,950.67 549.74,951.58 551.77,952.47 553.8,953.32 555.84,954.15 557.87,954.94 559.9,955.69 561.93,956.41 563.97,957.1 566,957.76 568.03,958.38 570.07,958.99 572.1,959.56 574.13,960.12 576.16,960.65 578.2,961.16 580.23,961.65 582.26,962.13 584.29,962.59 586.33,963.03 588.36,963.46 590.39,963.88 592.42,964.27 594.46,964.63 596.49,964.97 598.52,965.29 600.55,965.56 602.59,965.81 604.62,966.01 606.65,966.18 608.68,966.3 610.72,966.37 612.75,966.4" fill="#bebebe"/>
<rect x="472.5" y="911.8" width="2.7" height="5.9" fill="#b2182b" stroke="none" stroke-width="1" />
<rect x="475" y="911.8" width="11.8" height="5.9" fill="#e03c31" stroke="none" stroke-width="1" />
<rect x="486.6" y="911.8" width="14.6" height="5.9" fill="#fb6a4a" stroke="none" stroke-width="1" />
<rect x="501" y="911.8" width="21.1" height="5.9" fill="#fcb499" stroke="none" stroke-width="1" />
<rect x="521.9" y="911.8" width="49" height="5.9" fill="#fee0d2" stroke="none" stroke-width="1" />
<rect x="570.7" y="911.8" width="30.7" height="5.9" fill="#eff3ff" stroke="none" stroke-width="1" />
<rect x="601.2" y="911.8" width="14.2" height="5.9" fill="#bdd7e7" stroke="none" stroke-width="1" />
<rect x="615.2" y="911.8" width="13" height="5.9" fill="#6baed6" stroke="none" stroke-width="1" />
<rect x="628" y="911.8" width="14.7" height="5.9" fill="#3182bd" stroke="none" stroke-width="1" />
<line x1="473.2" y1="893" x2="473.2" y2="911.8" stroke="#000" stroke-width="1.6" stroke-opacity="0.95"/>
<line x1="473.2" y1="911.8" x2="473.2" y2="917.7" stroke="#000" stroke-width="1.6" stroke-opacity="0.11"/>
<line x1="474.6" y1="893" x2="474.6" y2="911.8" stroke="#000" stroke-width="1.4" stroke-opacity="0.9"/>
<line x1="474.6" y1="911.8" x2="474.6" y2="917.7" stroke="#000" stroke-width="1.4" stroke-opacity="0.11"/>
<line x1="477.74" y1="893" x2="477.74" y2="911.8" stroke="#000" stroke-width="0.85" stroke-opacity="0.92"/>
<line x1="477.74" y1="911.8" x2="477.74" y2="917.7" stroke="#000" stroke-width="0.85" stroke-opacity="0.11"/>
<line x1="480.15" y1="893" x2="480.15" y2="911.8" stroke="#000" stroke-width="0.85" stroke-opacity="0.92"/>
<line x1="480.15" y1="911.8" x2="480.15" y2="917.7" stroke="#000" stroke-width="0.85" stroke-opacity="0.11"/>
<line x1="481.43" y1="893" x2="481.43" y2="911.8" stroke="#000" stroke-width="0.85" stroke-opacity="0.92"/>
<line x1="481.43" y1="911.8" x2="481.43" y2="917.7" stroke="#000" stroke-width="0.85" stroke-opacity="0.11"/>
<line x1="483.68" y1="893" x2="483.68" y2="911.8" stroke="#000" stroke-width="0.85" stroke-opacity="0.92"/>
<line x1="483.68" y1="911.8" x2="483.68" y2="917.7" stroke="#000" stroke-width="0.85" stroke-opacity="0.11"/>
<line x1="484.97" y1="893" x2="484.97" y2="911.8" stroke="#000" stroke-width="0.85" stroke-opacity="0.92"/>
<line x1="484.97" y1="911.8" x2="484.97" y2="917.7" stroke="#000" stroke-width="0.85" stroke-opacity="0.11"/>
<line x1="487.37" y1="893" x2="487.37" y2="911.8" stroke="#000" stroke-width="0.85" stroke-opacity="0.92"/>
<line x1="487.37" y1="911.8" x2="487.37" y2="917.7" stroke="#000" stroke-width="0.85" stroke-opacity="0.11"/>
<line x1="488.34" y1="893" x2="488.34" y2="911.8" stroke="#000" stroke-width="1.3" stroke-opacity="0.92"/>
<line x1="488.34" y1="911.8" x2="488.34" y2="917.7" stroke="#000" stroke-width="1.3" stroke-opacity="0.11"/>
<line x1="489.3" y1="893" x2="489.3" y2="911.8" stroke="#000" stroke-width="1.3" stroke-opacity="0.92"/>
<line x1="489.3" y1="911.8" x2="489.3" y2="917.7" stroke="#000" stroke-width="1.3" stroke-opacity="0.11"/>
<line x1="490.26" y1="893" x2="490.26" y2="911.8" stroke="#000" stroke-width="1.3" stroke-opacity="0.92"/>
<line x1="490.26" y1="911.8" x2="490.26" y2="917.7" stroke="#000" stroke-width="1.3" stroke-opacity="0.11"/>
<line x1="491.39" y1="893" x2="491.39" y2="911.8" stroke="#000" stroke-width="0.85" stroke-opacity="0.92"/>
<line x1="491.39" y1="911.8" x2="491.39" y2="917.7" stroke="#000" stroke-width="0.85" stroke-opacity="0.11"/>
<line x1="493.8" y1="893" x2="493.8" y2="911.8" stroke="#000" stroke-width="0.85" stroke-opacity="0.92"/>
<line x1="493.8" y1="911.8" x2="493.8" y2="917.7" stroke="#000" stroke-width="0.85" stroke-opacity="0.11"/>
<line x1="496.21" y1="893" x2="496.21" y2="911.8" stroke="#000" stroke-width="0.85" stroke-opacity="0.92"/>
<line x1="496.21" y1="911.8" x2="496.21" y2="917.7" stroke="#000" stroke-width="0.85" stroke-opacity="0.11"/>
<line x1="499.1" y1="893" x2="499.1" y2="911.8" stroke="#000" stroke-width="0.85" stroke-opacity="0.6"/>
<line x1="499.1" y1="911.8" x2="499.1" y2="917.7" stroke="#000" stroke-width="0.85" stroke-opacity="0.07"/>
<line x1="501.02" y1="893" x2="501.02" y2="911.8" stroke="#000" stroke-width="0.85" stroke-opacity="0.6"/>
<line x1="501.02" y1="911.8" x2="501.02" y2="917.7" stroke="#000" stroke-width="0.85" stroke-opacity="0.07"/>
<line x1="505.04" y1="893" x2="505.04" y2="911.8" stroke="#000" stroke-width="0.85" stroke-opacity="0.92"/>
<line x1="505.04" y1="911.8" x2="505.04" y2="917.7" stroke="#000" stroke-width="0.85" stroke-opacity="0.11"/>
<line x1="506.65" y1="893" x2="506.65" y2="911.8" stroke="#000" stroke-width="0.85" stroke-opacity="0.92"/>
<line x1="506.65" y1="911.8" x2="506.65" y2="917.7" stroke="#000" stroke-width="0.85" stroke-opacity="0.11"/>
<line x1="510.66" y1="893" x2="510.66" y2="911.8" stroke="#000" stroke-width="1.3" stroke-opacity="0.92"/>
<line x1="510.66" y1="911.8" x2="510.66" y2="917.7" stroke="#000" stroke-width="1.3" stroke-opacity="0.11"/>
<line x1="512.27" y1="893" x2="512.27" y2="911.8" stroke="#000" stroke-width="0.85" stroke-opacity="0.92"/>
<line x1="512.27" y1="911.8" x2="512.27" y2="917.7" stroke="#000" stroke-width="0.85" stroke-opacity="0.11"/>
<line x1="514.19" y1="893" x2="514.19" y2="911.8" stroke="#000" stroke-width="1.3" stroke-opacity="0.92"/>
<line x1="514.19" y1="911.8" x2="514.19" y2="917.7" stroke="#000" stroke-width="1.3" stroke-opacity="0.11"/>
<line x1="515.48" y1="893" x2="515.48" y2="911.8" stroke="#000" stroke-width="0.85" stroke-opacity="0.92"/>
<line x1="515.48" y1="911.8" x2="515.48" y2="917.7" stroke="#000" stroke-width="0.85" stroke-opacity="0.11"/>
<line x1="517.89" y1="893" x2="517.89" y2="911.8" stroke="#000" stroke-width="0.85" stroke-opacity="0.6"/>
<line x1="517.89" y1="911.8" x2="517.89" y2="917.7" stroke="#000" stroke-width="0.85" stroke-opacity="0.07"/>
<line x1="519.81" y1="893" x2="519.81" y2="911.8" stroke="#000" stroke-width="0.85" stroke-opacity="0.6"/>
<line x1="519.81" y1="911.8" x2="519.81" y2="917.7" stroke="#000" stroke-width="0.85" stroke-opacity="0.07"/>
<line x1="527.52" y1="893" x2="527.52" y2="911.8" stroke="#000" stroke-width="0.85" stroke-opacity="0.92"/>
<line x1="527.52" y1="911.8" x2="527.52" y2="917.7" stroke="#000" stroke-width="0.85" stroke-opacity="0.11"/>
<line x1="532.34" y1="893" x2="532.34" y2="911.8" stroke="#000" stroke-width="0.85" stroke-opacity="0.92"/>
<line x1="532.34" y1="911.8" x2="532.34" y2="917.7" stroke="#000" stroke-width="0.85" stroke-opacity="0.11"/>
<line x1="535.55" y1="893" x2="535.55" y2="911.8" stroke="#000" stroke-width="0.85" stroke-opacity="0.92"/>
<line x1="535.55" y1="911.8" x2="535.55" y2="917.7" stroke="#000" stroke-width="0.85" stroke-opacity="0.11"/>
<line x1="539.57" y1="893" x2="539.57" y2="911.8" stroke="#000" stroke-width="0.85" stroke-opacity="0.92"/>
<line x1="539.57" y1="911.8" x2="539.57" y2="917.7" stroke="#000" stroke-width="0.85" stroke-opacity="0.11"/>
<line x1="542.3" y1="893" x2="542.3" y2="911.8" stroke="#000" stroke-width="0.85" stroke-opacity="0.92"/>
<line x1="542.3" y1="911.8" x2="542.3" y2="917.7" stroke="#000" stroke-width="0.85" stroke-opacity="0.11"/>
<line x1="544.38" y1="893" x2="544.38" y2="911.8" stroke="#000" stroke-width="0.85" stroke-opacity="0.92"/>
<line x1="544.38" y1="911.8" x2="544.38" y2="917.7" stroke="#000" stroke-width="0.85" stroke-opacity="0.11"/>
<line x1="553.83" y1="893" x2="553.83" y2="911.8" stroke="#000" stroke-width="1.6" stroke-opacity="0.75"/>
<line x1="553.83" y1="911.8" x2="553.83" y2="917.7" stroke="#000" stroke-width="1.6" stroke-opacity="0.09"/>
<line x1="561.06" y1="893" x2="561.06" y2="911.8" stroke="#000" stroke-width="0.9" stroke-opacity="0.55"/>
<line x1="561.06" y1="911.8" x2="561.06" y2="917.7" stroke="#000" stroke-width="0.9" stroke-opacity="0.07"/>
<line x1="563.47" y1="893" x2="563.47" y2="911.8" stroke="#000" stroke-width="0.9" stroke-opacity="0.6"/>
<line x1="563.47" y1="911.8" x2="563.47" y2="917.7" stroke="#000" stroke-width="0.9" stroke-opacity="0.07"/>
<line x1="566.36" y1="893" x2="566.36" y2="911.8" stroke="#000" stroke-width="0.9" stroke-opacity="0.85"/>
<line x1="566.36" y1="911.8" x2="566.36" y2="917.7" stroke="#000" stroke-width="0.9" stroke-opacity="0.1"/>
<line x1="585.95" y1="893" x2="585.95" y2="911.8" stroke="#000" stroke-width="1.6" stroke-opacity="0.7"/>
<line x1="585.95" y1="911.8" x2="585.95" y2="917.7" stroke="#000" stroke-width="1.6" stroke-opacity="0.08"/>
<line x1="593.18" y1="893" x2="593.18" y2="911.8" stroke="#000" stroke-width="0.9" stroke-opacity="0.55"/>
<line x1="593.18" y1="911.8" x2="593.18" y2="917.7" stroke="#000" stroke-width="0.9" stroke-opacity="0.07"/>
<line x1="596.39" y1="893" x2="596.39" y2="911.8" stroke="#000" stroke-width="0.9" stroke-opacity="0.85"/>
<line x1="596.39" y1="911.8" x2="596.39" y2="917.7" stroke="#000" stroke-width="0.9" stroke-opacity="0.1"/>
<line x1="599.6" y1="893" x2="599.6" y2="911.8" stroke="#000" stroke-width="0.9" stroke-opacity="0.6"/>
<line x1="599.6" y1="911.8" x2="599.6" y2="917.7" stroke="#000" stroke-width="0.9" stroke-opacity="0.07"/>
<line x1="602.01" y1="893" x2="602.01" y2="911.8" stroke="#000" stroke-width="0.9" stroke-opacity="0.6"/>
<line x1="602.01" y1="911.8" x2="602.01" y2="917.7" stroke="#000" stroke-width="0.9" stroke-opacity="0.07"/>
<line x1="607.63" y1="893" x2="607.63" y2="911.8" stroke="#000" stroke-width="0.9" stroke-opacity="0.55"/>
<line x1="607.63" y1="911.8" x2="607.63" y2="917.7" stroke="#000" stroke-width="0.9" stroke-opacity="0.07"/>
<line x1="610.84" y1="893" x2="610.84" y2="911.8" stroke="#000" stroke-width="1.2" stroke-opacity="0.85"/>
<line x1="610.84" y1="911.8" x2="610.84" y2="917.7" stroke="#000" stroke-width="1.2" stroke-opacity="0.1"/>
<line x1="613.25" y1="893" x2="613.25" y2="911.8" stroke="#000" stroke-width="0.9" stroke-opacity="0.7"/>
<line x1="613.25" y1="911.8" x2="613.25" y2="917.7" stroke="#000" stroke-width="0.9" stroke-opacity="0.08"/>
<line x1="618.07" y1="893" x2="618.07" y2="911.8" stroke="#000" stroke-width="1.8" stroke-opacity="0.85"/>
<line x1="618.07" y1="911.8" x2="618.07" y2="917.7" stroke="#000" stroke-width="1.8" stroke-opacity="0.1"/>
<line x1="621.28" y1="893" x2="621.28" y2="911.8" stroke="#000" stroke-width="1.2" stroke-opacity="0.7"/>
<line x1="621.28" y1="911.8" x2="621.28" y2="917.7" stroke="#000" stroke-width="1.2" stroke-opacity="0.08"/>
<line x1="623.69" y1="893" x2="623.69" y2="911.8" stroke="#000" stroke-width="1" stroke-opacity="0.7"/>
<line x1="623.69" y1="911.8" x2="623.69" y2="917.7" stroke="#000" stroke-width="1" stroke-opacity="0.08"/>
<line x1="628.19" y1="893" x2="628.19" y2="911.8" stroke="#000" stroke-width="1.2" stroke-opacity="0.75"/>
<line x1="628.19" y1="911.8" x2="628.19" y2="917.7" stroke="#000" stroke-width="1.2" stroke-opacity="0.09"/>
<line x1="630.11" y1="893" x2="630.11" y2="911.8" stroke="#000" stroke-width="0.9" stroke-opacity="0.7"/>
<line x1="630.11" y1="911.8" x2="630.11" y2="917.7" stroke="#000" stroke-width="0.9" stroke-opacity="0.08"/>
<line x1="632.52" y1="893" x2="632.52" y2="911.8" stroke="#000" stroke-width="1" stroke-opacity="0.7"/>
<line x1="632.52" y1="911.8" x2="632.52" y2="917.7" stroke="#000" stroke-width="1" stroke-opacity="0.08"/>
<line x1="638.95" y1="893" x2="638.95" y2="911.8" stroke="#000" stroke-width="2.2" stroke-opacity="0.9"/>
<line x1="638.95" y1="911.8" x2="638.95" y2="917.7" stroke="#000" stroke-width="2.2" stroke-opacity="0.11"/>
<line x1="641.35" y1="893" x2="641.35" y2="911.8" stroke="#000" stroke-width="1" stroke-opacity="0.8"/>
<line x1="641.35" y1="911.8" x2="641.35" y2="917.7" stroke="#000" stroke-width="1" stroke-opacity="0.1"/>
<polyline points="472.9,885.6 473.95,879.57 475,873.4 475.9,869.74 476.8,865.5 478.1,866.06 479.4,867.2 480.7,864.17 482,861.1 482.9,862.5 483.8,862.8 485.2,856.4 486.9,857.6 487.9,853.19 488.9,847.14 489.9,842.7 491.2,840.59 492.5,839.3 494,836.2 495.05,836.62 496.1,838.3 497.5,833.1 499.2,834.5 500.4,826.1 501.45,823.82 502.5,821.7 503.65,822.09 504.8,823.8 506.1,822.09 507.4,820.5 508.5,821.46 509.6,822 510.7,818.74 511.8,816.1 513.2,817.3 514.25,813 515.3,808.2 516.2,807.99 517.1,806.87 518,807.2 518.97,806.98 519.93,806.26 520.9,806.3 521.86,806.88 522.81,807.4 523.77,808.67 524.73,809.02 525.69,809.32 526.64,810.56 527.6,811.2 528.77,812.16 529.93,812.06 531.1,812.9 532.27,812.21 533.43,812.14 534.6,812 535.7,813.49 536.8,814.42 537.9,814.87 539,815.5 540.1,816.16 541.2,816.18 542.3,815.63 543.4,815.9 544.39,816.01 545.38,817.47 546.37,818.01 547.36,818.42 548.34,818.9 549.33,819.84 550.32,820.6 551.31,821 552.3,822 553.25,821.11 554.2,820.8 555.17,821.54 556.14,822.9 557.11,823.32 558.09,823.7 559.06,824.49 560.03,825.54 561,826.4 562.06,826.13 563.12,826.26 564.18,826.84 565.24,826.38 566.3,827.1 567.22,827.81 568.14,828.38 569.06,829.6 569.98,830.39 570.9,831.04 571.82,831.77 572.74,832.07 573.66,833.22 574.58,833.49 575.5,834.55 576.42,834.94 577.34,835.84 578.26,836.04 579.18,837.03 580.1,838.79 581.02,838.48 581.94,839.86 582.86,840.54 583.78,841.38 584.7,841.8 585.62,842.54 586.53,843.33 587.45,843.89 588.36,844.64 589.28,845.43 590.2,846.17 591.11,846.9 592.03,847.65 592.94,848.55 593.86,849.17 594.78,850.19 595.69,850.84 596.61,851.54 597.52,852.34 598.44,852.94 599.36,853.92 600.27,854.63 601.19,855.34 602.1,856.01 603.02,856.88 603.94,857.59 604.85,858.31 605.77,859.15 606.68,859.8 607.6,860.5 608.51,861.2 609.43,862.01 610.34,862.63 611.25,863.37 612.17,864.3 613.08,865.07 613.99,865.88 614.91,866.58 615.82,867.22 616.73,867.8 617.64,868.69 618.56,869.59 619.47,870.28 620.38,870.92 621.3,871.66 622.21,872.32 623.12,873.05 624.04,873.76 624.95,874.79 625.86,875.44 626.78,876.01 627.69,876.85 628.6,877.47 629.52,878.27 630.43,879.2 631.34,879.92 632.26,880.6 633.17,881.27 634.08,882.15 634.99,883 635.91,883.56 636.82,884.18 637.73,884.92 638.65,885.68 639.56,886.73 640.47,887.32 641.39,888.17 642.3,888.8" fill="none" stroke="#36a6c9" stroke-width="1.1" stroke-linejoin="round"/>
<rect x="472.5" y="802.1" width="170" height="164.3" fill="none" stroke="#222" stroke-width="1.1" />
<line x1="472.5" y1="893" x2="642.5" y2="893" stroke="#444" stroke-width="1" />
<line x1="472.5" y1="917.7" x2="642.5" y2="917.7" stroke="#111" stroke-width="1" />
<line x1="468.9" y1="802.4" x2="472.5" y2="802.4" stroke="#222" stroke-width="0.9" />
<text x="466.2" y="805.05" font-size="7.35" text-anchor="end" font-family="'Liberation Sans', sans-serif" fill="#1a1a1a"  stroke="#1a1a1a" stroke-width="0.13">0.6</text>
<line x1="468.9" y1="831.3" x2="472.5" y2="831.3" stroke="#222" stroke-width="0.9" />
<text x="466.2" y="833.95" font-size="7.35" text-anchor="end" font-family="'Liberation Sans', sans-serif" fill="#1a1a1a"  stroke="#1a1a1a" stroke-width="0.13">0.4</text>
<line x1="468.9" y1="860.2" x2="472.5" y2="860.2" stroke="#222" stroke-width="0.9" />
<text x="466.2" y="862.85" font-size="7.35" text-anchor="end" font-family="'Liberation Sans', sans-serif" fill="#1a1a1a"  stroke="#1a1a1a" stroke-width="0.13">0.2</text>
<line x1="468.9" y1="889.1" x2="472.5" y2="889.1" stroke="#222" stroke-width="0.9" />
<text x="466.2" y="891.75" font-size="7.35" text-anchor="end" font-family="'Liberation Sans', sans-serif" fill="#1a1a1a"  stroke="#1a1a1a" stroke-width="0.13">0.0</text>
<line x1="468.9" y1="930.6" x2="472.5" y2="930.6" stroke="#222" stroke-width="0.9" />
<text x="466" y="933.74" font-size="8.72" text-anchor="end" font-family="'Liberation Sans', sans-serif" fill="#1a1a1a"  stroke="#1a1a1a" stroke-width="0.13">0.75</text>
<line x1="468.9" y1="942.3" x2="472.5" y2="942.3" stroke="#222" stroke-width="0.9" />
<text x="466" y="945.44" font-size="8.72" text-anchor="end" font-family="'Liberation Sans', sans-serif" fill="#1a1a1a"  stroke="#1a1a1a" stroke-width="0.13">0.50</text>
<line x1="468.9" y1="954.4" x2="472.5" y2="954.4" stroke="#222" stroke-width="0.9" />
<text x="466" y="957.54" font-size="8.72" text-anchor="end" font-family="'Liberation Sans', sans-serif" fill="#1a1a1a"  stroke="#1a1a1a" stroke-width="0.13">0.25</text>
<line x1="468.9" y1="966.4" x2="472.5" y2="966.4" stroke="#222" stroke-width="0.9" />
<text x="466" y="969.54" font-size="8.72" text-anchor="end" font-family="'Liberation Sans', sans-serif" fill="#1a1a1a"  stroke="#1a1a1a" stroke-width="0.13">0.00</text>
<line x1="472.5" y1="966.4" x2="472.5" y2="969.9" stroke="#222" stroke-width="0.9" />
<line x1="528.6" y1="966.4" x2="528.6" y2="969.9" stroke="#222" stroke-width="0.9" />
<line x1="584.7" y1="966.4" x2="584.7" y2="969.9" stroke="#222" stroke-width="0.9" />
<line x1="640.8" y1="966.4" x2="640.8" y2="969.9" stroke="#222" stroke-width="0.9" />
<g clip-path="url(#clipH)">
<text x="472.5" y="979.34" font-size="8.72" text-anchor="middle" font-family="'Liberation Sans', sans-serif" fill="#1a1a1a"  stroke="#1a1a1a" stroke-width="0.13">0</text>
<text x="528.6" y="979.34" font-size="8.72" text-anchor="middle" font-family="'Liberation Sans', sans-serif" fill="#1a1a1a"  stroke="#1a1a1a" stroke-width="0.13">10000</text>
<text x="584.7" y="979.34" font-size="8.72" text-anchor="middle" font-family="'Liberation Sans', sans-serif" fill="#1a1a1a"  stroke="#1a1a1a" stroke-width="0.13">20000</text>
<text x="640.8" y="979.34" font-size="8.72" text-anchor="middle" font-family="'Liberation Sans', sans-serif" fill="#1a1a1a"  stroke="#1a1a1a" stroke-width="0.13">30000</text>
</g>
<text x="557.5" y="990.32" font-size="8.72" text-anchor="middle" font-family="'Liberation Sans', sans-serif" fill="#1a1a1a"  stroke="#1a1a1a" stroke-width="0.13">Rank in Ordered Dataset</text>
<text transform="translate(450.14,848.05) rotate(-90)" font-size="8.72" text-anchor="middle" font-family="'Liberation Sans', sans-serif" fill="#1a1a1a" stroke="#1a1a1a" stroke-width="0.2">Enrichment Score</text>
<text transform="translate(443.74,942) rotate(-90)" font-size="8.72" text-anchor="middle" font-family="'Liberation Sans', sans-serif" fill="#1a1a1a" stroke="#1a1a1a" stroke-width="0.2">Ranked list metric</text>
<text x="557.5" y="788.72" font-size="8.72" text-anchor="middle" font-family="'Liberation Sans', sans-serif" fill="#1a1a1a"  stroke="#1a1a1a" stroke-width="0.13">[WikiPathways] Corticotropinreleasing</text>
<text x="557.5" y="798.02" font-size="8.72" text-anchor="middle" font-family="'Liberation Sans', sans-serif" fill="#1a1a1a"  stroke="#1a1a1a" stroke-width="0.13">Hormone Signaling Pathway</text>
<rect x="593.2" y="804.3" width="46.5" height="27.4" fill="#fff" stroke="none" stroke-width="1" />
<text x="638.7" y="811.58" font-size="7.45" text-anchor="end" font-family="'Liberation Sans', sans-serif" fill="#1a1a1a"  stroke="#1a1a1a" stroke-width="0.1"><tspan font-style="italic">NES</tspan> = 1.317</text>
<text x="638.7" y="820.38" font-size="7.45" text-anchor="end" font-family="'Liberation Sans', sans-serif" fill="#1a1a1a"  stroke="#1a1a1a" stroke-width="0.1"><tspan font-style="italic">P.adj</tspan> = 0.038</text>
<text x="638.7" y="829.58" font-size="7.45" text-anchor="end" font-family="'Liberation Sans', sans-serif" fill="#1a1a1a"  stroke="#1a1a1a" stroke-width="0.1"><tspan font-style="italic">FDR</tspan> = 0.034</text>
<text transform="translate(374.6,788.8) scale(1,1)" font-size="31" font-family="'Liberation Serif', serif" fill="#000">H</text>
</svg>
</body>
</html>
